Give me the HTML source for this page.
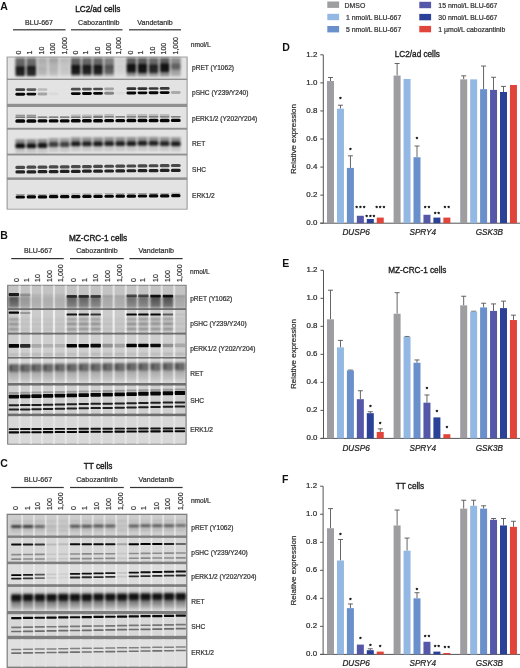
<!DOCTYPE html>
<html><head><meta charset="utf-8"><title>Figure</title>
<style>html,body{margin:0;padding:0;background:#fff;width:520px;height:668px;overflow:hidden}svg{display:block}</style>
</head><body>
<svg width="520" height="668" viewBox="0 0 520 668" font-family="'Liberation Sans', Arial, sans-serif">
<rect width="520" height="668" fill="#fff"/>
<defs><filter id="b6" x="-5%" y="-20%" width="110%" height="140%"><feGaussianBlur stdDeviation="0.8"/></filter><filter id="b5" x="-5%" y="-5%" width="110%" height="110%"><feGaussianBlur stdDeviation="0.5"/></filter></defs>
<rect x="6.60" y="56.60" width="181.00" height="153.00" fill="#909090"/>
<rect x="7.60" y="57.40" width="179.00" height="21.20" fill="#e3e3e3"/>
<rect x="7.60" y="80.00" width="179.00" height="23.80" fill="#e3e3e3"/>
<rect x="7.60" y="107.00" width="179.00" height="20.80" fill="#e3e3e3"/>
<rect x="7.60" y="129.70" width="179.00" height="23.90" fill="#e3e3e3"/>
<rect x="7.60" y="155.50" width="179.00" height="21.90" fill="#e3e3e3"/>
<rect x="7.60" y="179.90" width="179.00" height="28.90" fill="#e3e3e3"/>
<g filter="url(#b6)">
<linearGradient id="prA_0" x1="0" y1="0" x2="0" y2="1"><stop offset="0" stop-color="#000" stop-opacity="0.52"/><stop offset="0.5" stop-color="#000" stop-opacity="0.6"/><stop offset="1" stop-color="#000" stop-opacity="0.300"/></linearGradient>
<rect x="15.36" y="57.8" width="9.80" height="18.6" fill="url(#prA_0)"/>
<rect x="15.66" y="66.50" width="9.20" height="9.50" rx="1.2" fill="#000" fill-opacity="0.750"/>
<linearGradient id="prA_1" x1="0" y1="0" x2="0" y2="1"><stop offset="0" stop-color="#000" stop-opacity="0.5"/><stop offset="0.5" stop-color="#000" stop-opacity="0.58"/><stop offset="1" stop-color="#000" stop-opacity="0.290"/></linearGradient>
<rect x="26.47" y="57.8" width="9.80" height="18.6" fill="url(#prA_1)"/>
<rect x="26.77" y="66.00" width="9.20" height="10.00" rx="1.2" fill="#000" fill-opacity="0.700"/>
<linearGradient id="prA_2" x1="0" y1="0" x2="0" y2="1"><stop offset="0" stop-color="#000" stop-opacity="0.26"/><stop offset="0.5" stop-color="#000" stop-opacity="0.18"/><stop offset="1" stop-color="#000" stop-opacity="0.090"/></linearGradient>
<rect x="37.58" y="57.8" width="9.80" height="18.6" fill="url(#prA_2)"/>
<rect x="37.88" y="67.00" width="9.20" height="8.00" rx="1.2" fill="#000" fill-opacity="0.080"/>
<linearGradient id="prA_3" x1="0" y1="0" x2="0" y2="1"><stop offset="0" stop-color="#000" stop-opacity="0.32"/><stop offset="0.5" stop-color="#000" stop-opacity="0.18"/><stop offset="1" stop-color="#000" stop-opacity="0.090"/></linearGradient>
<rect x="48.69" y="57.8" width="9.80" height="18.6" fill="url(#prA_3)"/>
<rect x="48.99" y="67.00" width="9.20" height="8.00" rx="1.2" fill="#000" fill-opacity="0.060"/>
<linearGradient id="prA_4" x1="0" y1="0" x2="0" y2="1"><stop offset="0" stop-color="#000" stop-opacity="0.2"/><stop offset="0.5" stop-color="#000" stop-opacity="0.12"/><stop offset="1" stop-color="#000" stop-opacity="0.060"/></linearGradient>
<rect x="59.80" y="57.8" width="9.80" height="18.6" fill="url(#prA_4)"/>
<rect x="60.10" y="67.00" width="9.20" height="8.00" rx="1.2" fill="#000" fill-opacity="0.040"/>
<linearGradient id="prA_5" x1="0" y1="0" x2="0" y2="1"><stop offset="0" stop-color="#000" stop-opacity="0.55"/><stop offset="0.5" stop-color="#000" stop-opacity="0.62"/><stop offset="1" stop-color="#000" stop-opacity="0.310"/></linearGradient>
<rect x="70.91" y="57.8" width="9.80" height="18.6" fill="url(#prA_5)"/>
<rect x="71.21" y="65.00" width="9.20" height="9.50" rx="1.2" fill="#000" fill-opacity="0.780"/>
<linearGradient id="prA_6" x1="0" y1="0" x2="0" y2="1"><stop offset="0" stop-color="#000" stop-opacity="0.52"/><stop offset="0.5" stop-color="#000" stop-opacity="0.6"/><stop offset="1" stop-color="#000" stop-opacity="0.300"/></linearGradient>
<rect x="82.02" y="57.8" width="9.80" height="18.6" fill="url(#prA_6)"/>
<rect x="82.32" y="65.00" width="9.20" height="9.50" rx="1.2" fill="#000" fill-opacity="0.720"/>
<linearGradient id="prA_7" x1="0" y1="0" x2="0" y2="1"><stop offset="0" stop-color="#000" stop-opacity="0.52"/><stop offset="0.5" stop-color="#000" stop-opacity="0.6"/><stop offset="1" stop-color="#000" stop-opacity="0.300"/></linearGradient>
<rect x="93.13" y="57.8" width="9.80" height="18.6" fill="url(#prA_7)"/>
<rect x="93.43" y="65.00" width="9.20" height="9.50" rx="1.2" fill="#000" fill-opacity="0.740"/>
<linearGradient id="prA_8" x1="0" y1="0" x2="0" y2="1"><stop offset="0" stop-color="#000" stop-opacity="0.44"/><stop offset="0.5" stop-color="#000" stop-opacity="0.46"/><stop offset="1" stop-color="#000" stop-opacity="0.230"/></linearGradient>
<rect x="104.24" y="57.8" width="9.80" height="18.6" fill="url(#prA_8)"/>
<rect x="104.54" y="65.00" width="9.20" height="9.00" rx="1.2" fill="#000" fill-opacity="0.350"/>
<linearGradient id="prA_9" x1="0" y1="0" x2="0" y2="1"><stop offset="0" stop-color="#000" stop-opacity="0.1"/><stop offset="0.5" stop-color="#000" stop-opacity="0.06"/><stop offset="1" stop-color="#000" stop-opacity="0.030"/></linearGradient>
<rect x="115.35" y="57.8" width="9.80" height="18.6" fill="url(#prA_9)"/>
<rect x="115.65" y="65.00" width="9.20" height="9.00" rx="1.2" fill="#000" fill-opacity="0.030"/>
<linearGradient id="prA_10" x1="0" y1="0" x2="0" y2="1"><stop offset="0" stop-color="#000" stop-opacity="0.58"/><stop offset="0.5" stop-color="#000" stop-opacity="0.64"/><stop offset="1" stop-color="#000" stop-opacity="0.320"/></linearGradient>
<rect x="126.46" y="57.8" width="9.80" height="18.6" fill="url(#prA_10)"/>
<rect x="126.76" y="64.00" width="9.20" height="8.50" rx="1.2" fill="#000" fill-opacity="0.800"/>
<linearGradient id="prA_11" x1="0" y1="0" x2="0" y2="1"><stop offset="0" stop-color="#000" stop-opacity="0.58"/><stop offset="0.5" stop-color="#000" stop-opacity="0.64"/><stop offset="1" stop-color="#000" stop-opacity="0.320"/></linearGradient>
<rect x="137.57" y="57.8" width="9.80" height="18.6" fill="url(#prA_11)"/>
<rect x="137.87" y="64.00" width="9.20" height="9.00" rx="1.2" fill="#000" fill-opacity="0.800"/>
<linearGradient id="prA_12" x1="0" y1="0" x2="0" y2="1"><stop offset="0" stop-color="#000" stop-opacity="0.52"/><stop offset="0.5" stop-color="#000" stop-opacity="0.58"/><stop offset="1" stop-color="#000" stop-opacity="0.290"/></linearGradient>
<rect x="148.68" y="57.8" width="9.80" height="18.6" fill="url(#prA_12)"/>
<rect x="148.98" y="64.50" width="9.20" height="8.50" rx="1.2" fill="#000" fill-opacity="0.660"/>
<linearGradient id="prA_13" x1="0" y1="0" x2="0" y2="1"><stop offset="0" stop-color="#000" stop-opacity="0.58"/><stop offset="0.5" stop-color="#000" stop-opacity="0.64"/><stop offset="1" stop-color="#000" stop-opacity="0.320"/></linearGradient>
<rect x="159.79" y="57.8" width="9.80" height="18.6" fill="url(#prA_13)"/>
<rect x="160.09" y="63.50" width="9.20" height="8.50" rx="1.2" fill="#000" fill-opacity="0.800"/>
<linearGradient id="prA_14" x1="0" y1="0" x2="0" y2="1"><stop offset="0" stop-color="#000" stop-opacity="0.38"/><stop offset="0.5" stop-color="#000" stop-opacity="0.4"/><stop offset="1" stop-color="#000" stop-opacity="0.200"/></linearGradient>
<rect x="170.90" y="57.8" width="9.80" height="18.6" fill="url(#prA_14)"/>
<rect x="171.20" y="63.50" width="9.20" height="6.00" rx="1.2" fill="#000" fill-opacity="0.300"/>
<rect x="15.36" y="139.30" width="9.80" height="4.5" fill="#000" fill-opacity="0.399"/>
<rect x="15.36" y="143.40" width="9.80" height="4.8" rx="1.5" fill="#000" fill-opacity="0.950"/>
<rect x="15.36" y="148.20" width="9.80" height="5" fill="#000" fill-opacity="0.13"/>
<rect x="26.47" y="139.30" width="9.80" height="4.5" fill="#000" fill-opacity="0.391"/>
<rect x="26.47" y="143.40" width="9.80" height="4.8" rx="1.5" fill="#000" fill-opacity="0.930"/>
<rect x="26.47" y="148.20" width="9.80" height="5" fill="#000" fill-opacity="0.13"/>
<rect x="37.58" y="139.00" width="9.80" height="4.5" fill="#000" fill-opacity="0.378"/>
<rect x="37.58" y="143.10" width="9.80" height="4.8" rx="1.5" fill="#000" fill-opacity="0.900"/>
<rect x="37.58" y="147.90" width="9.80" height="5" fill="#000" fill-opacity="0.13"/>
<rect x="48.69" y="138.00" width="9.80" height="4.5" fill="#000" fill-opacity="0.302"/>
<rect x="48.69" y="142.10" width="9.80" height="4.8" rx="1.5" fill="#000" fill-opacity="0.720"/>
<rect x="48.69" y="146.90" width="9.80" height="5" fill="#000" fill-opacity="0.13"/>
<rect x="59.80" y="138.00" width="9.80" height="4.5" fill="#000" fill-opacity="0.294"/>
<rect x="59.80" y="142.10" width="9.80" height="4.8" rx="1.5" fill="#000" fill-opacity="0.700"/>
<rect x="59.80" y="146.90" width="9.80" height="5" fill="#000" fill-opacity="0.13"/>
<rect x="70.91" y="137.30" width="9.80" height="4.5" fill="#000" fill-opacity="0.370"/>
<rect x="70.91" y="141.40" width="9.80" height="4.8" rx="1.5" fill="#000" fill-opacity="0.880"/>
<rect x="70.91" y="146.20" width="9.80" height="5" fill="#000" fill-opacity="0.13"/>
<rect x="82.02" y="137.30" width="9.80" height="4.5" fill="#000" fill-opacity="0.361"/>
<rect x="82.02" y="141.40" width="9.80" height="4.8" rx="1.5" fill="#000" fill-opacity="0.860"/>
<rect x="82.02" y="146.20" width="9.80" height="5" fill="#000" fill-opacity="0.13"/>
<rect x="93.13" y="137.30" width="9.80" height="4.5" fill="#000" fill-opacity="0.370"/>
<rect x="93.13" y="141.40" width="9.80" height="4.8" rx="1.5" fill="#000" fill-opacity="0.880"/>
<rect x="93.13" y="146.20" width="9.80" height="5" fill="#000" fill-opacity="0.13"/>
<rect x="104.24" y="137.10" width="9.80" height="4.5" fill="#000" fill-opacity="0.361"/>
<rect x="104.24" y="141.20" width="9.80" height="4.8" rx="1.5" fill="#000" fill-opacity="0.860"/>
<rect x="104.24" y="146.00" width="9.80" height="5" fill="#000" fill-opacity="0.13"/>
<rect x="115.35" y="137.10" width="9.80" height="4.5" fill="#000" fill-opacity="0.361"/>
<rect x="115.35" y="141.20" width="9.80" height="4.8" rx="1.5" fill="#000" fill-opacity="0.860"/>
<rect x="115.35" y="146.00" width="9.80" height="5" fill="#000" fill-opacity="0.13"/>
<rect x="126.46" y="137.10" width="9.80" height="4.5" fill="#000" fill-opacity="0.370"/>
<rect x="126.46" y="141.20" width="9.80" height="4.8" rx="1.5" fill="#000" fill-opacity="0.880"/>
<rect x="126.46" y="146.00" width="9.80" height="5" fill="#000" fill-opacity="0.13"/>
<rect x="137.57" y="136.90" width="9.80" height="4.5" fill="#000" fill-opacity="0.361"/>
<rect x="137.57" y="141.00" width="9.80" height="4.8" rx="1.5" fill="#000" fill-opacity="0.860"/>
<rect x="137.57" y="145.80" width="9.80" height="5" fill="#000" fill-opacity="0.13"/>
<rect x="148.68" y="136.90" width="9.80" height="4.5" fill="#000" fill-opacity="0.361"/>
<rect x="148.68" y="141.00" width="9.80" height="4.8" rx="1.5" fill="#000" fill-opacity="0.860"/>
<rect x="148.68" y="145.80" width="9.80" height="5" fill="#000" fill-opacity="0.13"/>
<rect x="159.79" y="137.10" width="9.80" height="4.5" fill="#000" fill-opacity="0.353"/>
<rect x="159.79" y="141.20" width="9.80" height="4.8" rx="1.5" fill="#000" fill-opacity="0.840"/>
<rect x="159.79" y="146.00" width="9.80" height="5" fill="#000" fill-opacity="0.13"/>
<rect x="170.90" y="137.30" width="9.80" height="4.5" fill="#000" fill-opacity="0.370"/>
<rect x="170.90" y="141.40" width="9.80" height="4.8" rx="1.5" fill="#000" fill-opacity="0.880"/>
<rect x="170.90" y="146.20" width="9.80" height="5" fill="#000" fill-opacity="0.13"/>
</g>
<g filter="url(#b5)">
<rect x="15.36" y="88.35" width="9.80" height="2.70" rx="1.35" fill="#000" fill-opacity="0.720"/>
<rect x="26.47" y="88.25" width="9.80" height="2.70" rx="1.35" fill="#000" fill-opacity="0.600"/>
<rect x="37.58" y="88.15" width="9.80" height="2.70" rx="1.35" fill="#000" fill-opacity="0.180"/>
<rect x="70.91" y="87.85" width="9.80" height="2.70" rx="1.35" fill="#000" fill-opacity="0.650"/>
<rect x="82.02" y="87.75" width="9.80" height="2.70" rx="1.35" fill="#000" fill-opacity="0.650"/>
<rect x="93.13" y="87.65" width="9.80" height="2.70" rx="1.35" fill="#000" fill-opacity="0.680"/>
<rect x="104.24" y="87.55" width="9.80" height="2.70" rx="1.35" fill="#000" fill-opacity="0.280"/>
<rect x="126.46" y="87.35" width="9.80" height="2.70" rx="1.35" fill="#000" fill-opacity="0.780"/>
<rect x="137.57" y="87.25" width="9.80" height="2.70" rx="1.35" fill="#000" fill-opacity="0.780"/>
<rect x="148.68" y="87.15" width="9.80" height="2.70" rx="1.35" fill="#000" fill-opacity="0.750"/>
<rect x="159.79" y="87.05" width="9.80" height="2.70" rx="1.35" fill="#000" fill-opacity="0.750"/>
<rect x="15.36" y="92.75" width="9.80" height="2.90" rx="1.45" fill="#000" fill-opacity="0.970"/>
<rect x="26.47" y="92.63" width="9.80" height="2.90" rx="1.45" fill="#000" fill-opacity="0.950"/>
<rect x="37.58" y="92.51" width="9.80" height="2.90" rx="1.45" fill="#000" fill-opacity="0.280"/>
<rect x="48.69" y="92.39" width="9.80" height="2.90" rx="1.45" fill="#000" fill-opacity="0.040"/>
<rect x="70.91" y="92.14" width="9.80" height="2.90" rx="1.45" fill="#000" fill-opacity="0.970"/>
<rect x="82.02" y="92.02" width="9.80" height="2.90" rx="1.45" fill="#000" fill-opacity="0.970"/>
<rect x="93.13" y="91.90" width="9.80" height="2.90" rx="1.45" fill="#000" fill-opacity="0.970"/>
<rect x="104.24" y="91.78" width="9.80" height="2.90" rx="1.45" fill="#000" fill-opacity="0.420"/>
<rect x="115.35" y="91.66" width="9.80" height="2.90" rx="1.45" fill="#000" fill-opacity="0.030"/>
<rect x="126.46" y="91.54" width="9.80" height="2.90" rx="1.45" fill="#000" fill-opacity="0.970"/>
<rect x="137.57" y="91.41" width="9.80" height="2.90" rx="1.45" fill="#000" fill-opacity="0.970"/>
<rect x="148.68" y="91.29" width="9.80" height="2.90" rx="1.45" fill="#000" fill-opacity="0.970"/>
<rect x="159.79" y="91.17" width="9.80" height="2.90" rx="1.45" fill="#000" fill-opacity="0.970"/>
<rect x="170.90" y="91.05" width="9.80" height="2.90" rx="1.45" fill="#000" fill-opacity="0.250"/>
<rect x="15.36" y="119.30" width="9.80" height="3.40" rx="1.50" fill="#000" fill-opacity="0.970"/>
<rect x="26.47" y="119.26" width="9.80" height="3.40" rx="1.50" fill="#000" fill-opacity="0.970"/>
<rect x="37.58" y="119.21" width="9.80" height="3.40" rx="1.50" fill="#000" fill-opacity="0.970"/>
<rect x="48.69" y="119.17" width="9.80" height="3.40" rx="1.50" fill="#000" fill-opacity="0.970"/>
<rect x="59.80" y="119.13" width="9.80" height="3.40" rx="1.50" fill="#000" fill-opacity="0.970"/>
<rect x="70.91" y="119.09" width="9.80" height="3.40" rx="1.50" fill="#000" fill-opacity="0.970"/>
<rect x="82.02" y="119.04" width="9.80" height="3.40" rx="1.50" fill="#000" fill-opacity="0.970"/>
<rect x="93.13" y="119.00" width="9.80" height="3.40" rx="1.50" fill="#000" fill-opacity="0.970"/>
<rect x="104.24" y="118.96" width="9.80" height="3.40" rx="1.50" fill="#000" fill-opacity="0.970"/>
<rect x="115.35" y="118.91" width="9.80" height="3.40" rx="1.50" fill="#000" fill-opacity="0.970"/>
<rect x="126.46" y="118.87" width="9.80" height="3.40" rx="1.50" fill="#000" fill-opacity="0.970"/>
<rect x="137.57" y="118.83" width="9.80" height="3.40" rx="1.50" fill="#000" fill-opacity="0.970"/>
<rect x="148.68" y="118.79" width="9.80" height="3.40" rx="1.50" fill="#000" fill-opacity="0.970"/>
<rect x="159.79" y="118.74" width="9.80" height="3.40" rx="1.50" fill="#000" fill-opacity="0.970"/>
<rect x="170.90" y="118.70" width="9.80" height="3.40" rx="1.50" fill="#000" fill-opacity="0.970"/>
<rect x="15.36" y="116.55" width="9.80" height="1.30" rx="0.65" fill="#000" fill-opacity="0.620"/>
<rect x="26.47" y="116.52" width="9.80" height="1.30" rx="0.65" fill="#000" fill-opacity="0.620"/>
<rect x="37.58" y="116.49" width="9.80" height="1.30" rx="0.65" fill="#000" fill-opacity="0.580"/>
<rect x="48.69" y="116.46" width="9.80" height="1.30" rx="0.65" fill="#000" fill-opacity="0.580"/>
<rect x="59.80" y="116.44" width="9.80" height="1.30" rx="0.65" fill="#000" fill-opacity="0.580"/>
<rect x="70.91" y="116.41" width="9.80" height="1.30" rx="0.65" fill="#000" fill-opacity="0.620"/>
<rect x="82.02" y="116.38" width="9.80" height="1.30" rx="0.65" fill="#000" fill-opacity="0.620"/>
<rect x="93.13" y="116.35" width="9.80" height="1.30" rx="0.65" fill="#000" fill-opacity="0.620"/>
<rect x="104.24" y="116.32" width="9.80" height="1.30" rx="0.65" fill="#000" fill-opacity="0.580"/>
<rect x="115.35" y="116.29" width="9.80" height="1.30" rx="0.65" fill="#000" fill-opacity="0.580"/>
<rect x="126.46" y="116.26" width="9.80" height="1.30" rx="0.65" fill="#000" fill-opacity="0.580"/>
<rect x="137.57" y="116.24" width="9.80" height="1.30" rx="0.65" fill="#000" fill-opacity="0.620"/>
<rect x="148.68" y="116.21" width="9.80" height="1.30" rx="0.65" fill="#000" fill-opacity="0.620"/>
<rect x="159.79" y="116.18" width="9.80" height="1.30" rx="0.65" fill="#000" fill-opacity="0.580"/>
<rect x="170.90" y="116.15" width="9.80" height="1.30" rx="0.65" fill="#000" fill-opacity="0.580"/>
<rect x="15.36" y="114.85" width="9.80" height="0.90" rx="0.45" fill="#000" fill-opacity="0.450"/>
<rect x="26.47" y="114.82" width="9.80" height="0.90" rx="0.45" fill="#000" fill-opacity="0.450"/>
<rect x="70.91" y="114.71" width="9.80" height="0.90" rx="0.45" fill="#000" fill-opacity="0.350"/>
<rect x="82.02" y="114.68" width="9.80" height="0.90" rx="0.45" fill="#000" fill-opacity="0.350"/>
<rect x="93.13" y="114.65" width="9.80" height="0.90" rx="0.45" fill="#000" fill-opacity="0.400"/>
<rect x="104.24" y="114.62" width="9.80" height="0.90" rx="0.45" fill="#000" fill-opacity="0.350"/>
<rect x="126.46" y="114.56" width="9.80" height="0.90" rx="0.45" fill="#000" fill-opacity="0.300"/>
<rect x="137.57" y="114.54" width="9.80" height="0.90" rx="0.45" fill="#000" fill-opacity="0.350"/>
<rect x="148.68" y="114.51" width="9.80" height="0.90" rx="0.45" fill="#000" fill-opacity="0.350"/>
<rect x="159.79" y="114.48" width="9.80" height="0.90" rx="0.45" fill="#000" fill-opacity="0.350"/>
<rect x="15.36" y="165.70" width="9.80" height="3.20" rx="1.50" fill="#000" fill-opacity="0.680"/>
<rect x="26.47" y="165.57" width="9.80" height="3.20" rx="1.50" fill="#000" fill-opacity="0.680"/>
<rect x="37.58" y="165.44" width="9.80" height="3.20" rx="1.50" fill="#000" fill-opacity="0.680"/>
<rect x="48.69" y="165.31" width="9.80" height="3.20" rx="1.50" fill="#000" fill-opacity="0.680"/>
<rect x="59.80" y="165.19" width="9.80" height="3.20" rx="1.50" fill="#000" fill-opacity="0.680"/>
<rect x="70.91" y="165.06" width="9.80" height="3.20" rx="1.50" fill="#000" fill-opacity="0.680"/>
<rect x="82.02" y="164.93" width="9.80" height="3.20" rx="1.50" fill="#000" fill-opacity="0.680"/>
<rect x="93.13" y="164.80" width="9.80" height="3.20" rx="1.50" fill="#000" fill-opacity="0.680"/>
<rect x="104.24" y="164.67" width="9.80" height="3.20" rx="1.50" fill="#000" fill-opacity="0.680"/>
<rect x="115.35" y="164.54" width="9.80" height="3.20" rx="1.50" fill="#000" fill-opacity="0.680"/>
<rect x="126.46" y="164.41" width="9.80" height="3.20" rx="1.50" fill="#000" fill-opacity="0.680"/>
<rect x="137.57" y="164.29" width="9.80" height="3.20" rx="1.50" fill="#000" fill-opacity="0.680"/>
<rect x="148.68" y="164.16" width="9.80" height="3.20" rx="1.50" fill="#000" fill-opacity="0.680"/>
<rect x="159.79" y="164.03" width="9.80" height="3.20" rx="1.50" fill="#000" fill-opacity="0.680"/>
<rect x="170.90" y="163.90" width="9.80" height="3.20" rx="1.50" fill="#000" fill-opacity="0.680"/>
<rect x="15.36" y="170.30" width="9.80" height="3.20" rx="1.50" fill="#000" fill-opacity="0.850"/>
<rect x="26.47" y="170.19" width="9.80" height="3.20" rx="1.50" fill="#000" fill-opacity="0.850"/>
<rect x="37.58" y="170.07" width="9.80" height="3.20" rx="1.50" fill="#000" fill-opacity="0.850"/>
<rect x="48.69" y="169.96" width="9.80" height="3.20" rx="1.50" fill="#000" fill-opacity="0.850"/>
<rect x="59.80" y="169.84" width="9.80" height="3.20" rx="1.50" fill="#000" fill-opacity="0.850"/>
<rect x="70.91" y="169.73" width="9.80" height="3.20" rx="1.50" fill="#000" fill-opacity="0.850"/>
<rect x="82.02" y="169.61" width="9.80" height="3.20" rx="1.50" fill="#000" fill-opacity="0.850"/>
<rect x="93.13" y="169.50" width="9.80" height="3.20" rx="1.50" fill="#000" fill-opacity="0.850"/>
<rect x="104.24" y="169.39" width="9.80" height="3.20" rx="1.50" fill="#000" fill-opacity="0.850"/>
<rect x="115.35" y="169.27" width="9.80" height="3.20" rx="1.50" fill="#000" fill-opacity="0.850"/>
<rect x="126.46" y="169.16" width="9.80" height="3.20" rx="1.50" fill="#000" fill-opacity="0.850"/>
<rect x="137.57" y="169.04" width="9.80" height="3.20" rx="1.50" fill="#000" fill-opacity="0.850"/>
<rect x="148.68" y="168.93" width="9.80" height="3.20" rx="1.50" fill="#000" fill-opacity="0.850"/>
<rect x="159.79" y="168.81" width="9.80" height="3.20" rx="1.50" fill="#000" fill-opacity="0.850"/>
<rect x="170.90" y="168.70" width="9.80" height="3.20" rx="1.50" fill="#000" fill-opacity="0.850"/>
<rect x="15.56" y="195.40" width="9.41" height="3.20" rx="1.50" fill="#000" fill-opacity="0.970"/>
<rect x="26.67" y="195.31" width="9.41" height="3.20" rx="1.50" fill="#000" fill-opacity="0.970"/>
<rect x="37.78" y="195.21" width="9.41" height="3.20" rx="1.50" fill="#000" fill-opacity="0.970"/>
<rect x="48.89" y="195.12" width="9.41" height="3.20" rx="1.50" fill="#000" fill-opacity="0.970"/>
<rect x="60.00" y="195.03" width="9.41" height="3.20" rx="1.50" fill="#000" fill-opacity="0.970"/>
<rect x="71.11" y="194.94" width="9.41" height="3.20" rx="1.50" fill="#000" fill-opacity="0.970"/>
<rect x="82.22" y="194.84" width="9.41" height="3.20" rx="1.50" fill="#000" fill-opacity="0.970"/>
<rect x="93.33" y="194.75" width="9.41" height="3.20" rx="1.50" fill="#000" fill-opacity="0.970"/>
<rect x="104.44" y="194.66" width="9.41" height="3.20" rx="1.50" fill="#000" fill-opacity="0.970"/>
<rect x="115.55" y="194.56" width="9.41" height="3.20" rx="1.50" fill="#000" fill-opacity="0.970"/>
<rect x="126.66" y="194.47" width="9.41" height="3.20" rx="1.50" fill="#000" fill-opacity="0.970"/>
<rect x="137.77" y="194.38" width="9.41" height="3.20" rx="1.50" fill="#000" fill-opacity="0.970"/>
<rect x="148.88" y="194.29" width="9.41" height="3.20" rx="1.50" fill="#000" fill-opacity="0.970"/>
<rect x="159.99" y="194.19" width="9.41" height="3.20" rx="1.50" fill="#000" fill-opacity="0.970"/>
<rect x="171.10" y="194.10" width="9.41" height="3.20" rx="1.50" fill="#000" fill-opacity="0.970"/>
<rect x="15.56" y="194.05" width="9.41" height="0.90" rx="0.45" fill="#000" fill-opacity="0.300"/>
<rect x="26.67" y="193.96" width="9.41" height="0.90" rx="0.45" fill="#000" fill-opacity="0.300"/>
<rect x="37.78" y="193.88" width="9.41" height="0.90" rx="0.45" fill="#000" fill-opacity="0.300"/>
<rect x="48.89" y="193.79" width="9.41" height="0.90" rx="0.45" fill="#000" fill-opacity="0.300"/>
<rect x="60.00" y="193.71" width="9.41" height="0.90" rx="0.45" fill="#000" fill-opacity="0.300"/>
<rect x="71.11" y="193.62" width="9.41" height="0.90" rx="0.45" fill="#000" fill-opacity="0.300"/>
<rect x="82.22" y="193.54" width="9.41" height="0.90" rx="0.45" fill="#000" fill-opacity="0.300"/>
<rect x="93.33" y="193.45" width="9.41" height="0.90" rx="0.45" fill="#000" fill-opacity="0.300"/>
<rect x="104.44" y="193.36" width="9.41" height="0.90" rx="0.45" fill="#000" fill-opacity="0.300"/>
<rect x="115.55" y="193.28" width="9.41" height="0.90" rx="0.45" fill="#000" fill-opacity="0.300"/>
<rect x="126.66" y="193.19" width="9.41" height="0.90" rx="0.45" fill="#000" fill-opacity="0.300"/>
<rect x="137.77" y="193.11" width="9.41" height="0.90" rx="0.45" fill="#000" fill-opacity="0.300"/>
<rect x="148.88" y="193.02" width="9.41" height="0.90" rx="0.45" fill="#000" fill-opacity="0.300"/>
<rect x="159.99" y="192.94" width="9.41" height="0.90" rx="0.45" fill="#000" fill-opacity="0.300"/>
<rect x="171.10" y="192.85" width="9.41" height="0.90" rx="0.45" fill="#000" fill-opacity="0.300"/>
</g>
<rect x="7.20" y="284.8" width="179.40" height="159.80" fill="#6e6e6e"/>
<rect x="8.20" y="285.60" width="177.40" height="22.60" fill="#c3c3c3"/>
<rect x="8.20" y="310.00" width="177.40" height="22.60" fill="#cbcbcb"/>
<rect x="8.20" y="334.60" width="177.40" height="22.40" fill="#cecece"/>
<rect x="8.20" y="358.60" width="177.40" height="24.40" fill="#d5d5d5"/>
<rect x="8.20" y="385.60" width="177.40" height="28.00" fill="#cfcfcf"/>
<rect x="8.20" y="416.20" width="177.40" height="27.60" fill="#d8d8d8"/>
<linearGradient id="retBsm" x1="0" y1="0" x2="0" y2="1"><stop offset="0" stop-color="#000" stop-opacity="0.22"/><stop offset="1" stop-color="#000" stop-opacity="0.05"/></linearGradient>
<g filter="url(#b5)">
<rect x="18.50" y="285.60" width="2.20" height="22.60" fill="#e2e2e2"/>
<rect x="29.80" y="285.60" width="2.20" height="22.60" fill="#e2e2e2"/>
<rect x="41.00" y="285.60" width="2.20" height="22.60" fill="#e2e2e2"/>
<rect x="52.90" y="285.60" width="2.20" height="22.60" fill="#e2e2e2"/>
<rect x="64.70" y="285.60" width="2.20" height="22.60" fill="#e2e2e2"/>
<rect x="76.70" y="285.60" width="2.20" height="22.60" fill="#e2e2e2"/>
<rect x="88.60" y="285.60" width="2.20" height="22.60" fill="#e2e2e2"/>
<rect x="100.60" y="285.60" width="2.20" height="22.60" fill="#e2e2e2"/>
<rect x="112.50" y="285.60" width="2.20" height="22.60" fill="#e2e2e2"/>
<rect x="124.70" y="285.60" width="2.20" height="22.60" fill="#e2e2e2"/>
<rect x="136.30" y="285.60" width="2.20" height="22.60" fill="#e2e2e2"/>
<rect x="148.30" y="285.60" width="2.20" height="22.60" fill="#e2e2e2"/>
<rect x="160.60" y="285.60" width="2.20" height="22.60" fill="#e2e2e2"/>
<rect x="173.10" y="285.60" width="2.20" height="22.60" fill="#e2e2e2"/>
</g>
<g filter="url(#b5)">
<rect x="18.50" y="310.00" width="2.20" height="22.60" fill="#f0f0f0"/>
<rect x="29.80" y="310.00" width="2.20" height="22.60" fill="#f0f0f0"/>
<rect x="41.00" y="310.00" width="2.20" height="22.60" fill="#f0f0f0"/>
<rect x="52.90" y="310.00" width="2.20" height="22.60" fill="#f0f0f0"/>
<rect x="64.70" y="310.00" width="2.20" height="22.60" fill="#f0f0f0"/>
<rect x="76.70" y="310.00" width="2.20" height="22.60" fill="#f0f0f0"/>
<rect x="88.60" y="310.00" width="2.20" height="22.60" fill="#f0f0f0"/>
<rect x="100.60" y="310.00" width="2.20" height="22.60" fill="#f0f0f0"/>
<rect x="112.50" y="310.00" width="2.20" height="22.60" fill="#f0f0f0"/>
<rect x="124.70" y="310.00" width="2.20" height="22.60" fill="#f0f0f0"/>
<rect x="136.30" y="310.00" width="2.20" height="22.60" fill="#f0f0f0"/>
<rect x="148.30" y="310.00" width="2.20" height="22.60" fill="#f0f0f0"/>
<rect x="160.60" y="310.00" width="2.20" height="22.60" fill="#f0f0f0"/>
<rect x="173.10" y="310.00" width="2.20" height="22.60" fill="#f0f0f0"/>
</g>
<g filter="url(#b5)">
<rect x="18.50" y="334.60" width="2.20" height="22.40" fill="#ececec"/>
<rect x="29.80" y="334.60" width="2.20" height="22.40" fill="#ececec"/>
<rect x="41.00" y="334.60" width="2.20" height="22.40" fill="#ececec"/>
<rect x="52.90" y="334.60" width="2.20" height="22.40" fill="#ececec"/>
<rect x="64.70" y="334.60" width="2.20" height="22.40" fill="#ececec"/>
<rect x="76.70" y="334.60" width="2.20" height="22.40" fill="#ececec"/>
<rect x="88.60" y="334.60" width="2.20" height="22.40" fill="#ececec"/>
<rect x="100.60" y="334.60" width="2.20" height="22.40" fill="#ececec"/>
<rect x="112.50" y="334.60" width="2.20" height="22.40" fill="#ececec"/>
<rect x="124.70" y="334.60" width="2.20" height="22.40" fill="#ececec"/>
<rect x="136.30" y="334.60" width="2.20" height="22.40" fill="#ececec"/>
<rect x="148.30" y="334.60" width="2.20" height="22.40" fill="#ececec"/>
<rect x="160.60" y="334.60" width="2.20" height="22.40" fill="#ececec"/>
<rect x="173.10" y="334.60" width="2.20" height="22.40" fill="#ececec"/>
</g>
<g filter="url(#b5)">
<rect x="18.50" y="358.60" width="2.20" height="24.40" fill="#eeeeee"/>
<rect x="29.80" y="358.60" width="2.20" height="24.40" fill="#eeeeee"/>
<rect x="41.00" y="358.60" width="2.20" height="24.40" fill="#eeeeee"/>
<rect x="52.90" y="358.60" width="2.20" height="24.40" fill="#eeeeee"/>
<rect x="64.70" y="358.60" width="2.20" height="24.40" fill="#eeeeee"/>
<rect x="76.70" y="358.60" width="2.20" height="24.40" fill="#eeeeee"/>
<rect x="88.60" y="358.60" width="2.20" height="24.40" fill="#eeeeee"/>
<rect x="100.60" y="358.60" width="2.20" height="24.40" fill="#eeeeee"/>
<rect x="112.50" y="358.60" width="2.20" height="24.40" fill="#eeeeee"/>
<rect x="124.70" y="358.60" width="2.20" height="24.40" fill="#eeeeee"/>
<rect x="136.30" y="358.60" width="2.20" height="24.40" fill="#eeeeee"/>
<rect x="148.30" y="358.60" width="2.20" height="24.40" fill="#eeeeee"/>
<rect x="160.60" y="358.60" width="2.20" height="24.40" fill="#eeeeee"/>
<rect x="173.10" y="358.60" width="2.20" height="24.40" fill="#eeeeee"/>
</g>
<g filter="url(#b5)">
<rect x="18.50" y="385.60" width="2.20" height="28.00" fill="#f2f2f2"/>
<rect x="29.80" y="385.60" width="2.20" height="28.00" fill="#f2f2f2"/>
<rect x="41.00" y="385.60" width="2.20" height="28.00" fill="#f2f2f2"/>
<rect x="52.90" y="385.60" width="2.20" height="28.00" fill="#f2f2f2"/>
<rect x="64.70" y="385.60" width="2.20" height="28.00" fill="#f2f2f2"/>
<rect x="76.70" y="385.60" width="2.20" height="28.00" fill="#f2f2f2"/>
<rect x="88.60" y="385.60" width="2.20" height="28.00" fill="#f2f2f2"/>
<rect x="100.60" y="385.60" width="2.20" height="28.00" fill="#f2f2f2"/>
<rect x="112.50" y="385.60" width="2.20" height="28.00" fill="#f2f2f2"/>
<rect x="124.70" y="385.60" width="2.20" height="28.00" fill="#f2f2f2"/>
<rect x="136.30" y="385.60" width="2.20" height="28.00" fill="#f2f2f2"/>
<rect x="148.30" y="385.60" width="2.20" height="28.00" fill="#f2f2f2"/>
<rect x="160.60" y="385.60" width="2.20" height="28.00" fill="#f2f2f2"/>
<rect x="173.10" y="385.60" width="2.20" height="28.00" fill="#f2f2f2"/>
</g>
<g filter="url(#b5)">
<rect x="18.50" y="416.20" width="2.20" height="27.60" fill="#e4e4e4"/>
<rect x="29.80" y="416.20" width="2.20" height="27.60" fill="#e4e4e4"/>
<rect x="41.00" y="416.20" width="2.20" height="27.60" fill="#e4e4e4"/>
<rect x="52.90" y="416.20" width="2.20" height="27.60" fill="#e4e4e4"/>
<rect x="64.70" y="416.20" width="2.20" height="27.60" fill="#e4e4e4"/>
<rect x="76.70" y="416.20" width="2.20" height="27.60" fill="#e4e4e4"/>
<rect x="88.60" y="416.20" width="2.20" height="27.60" fill="#e4e4e4"/>
<rect x="100.60" y="416.20" width="2.20" height="27.60" fill="#e4e4e4"/>
<rect x="112.50" y="416.20" width="2.20" height="27.60" fill="#e4e4e4"/>
<rect x="124.70" y="416.20" width="2.20" height="27.60" fill="#e4e4e4"/>
<rect x="136.30" y="416.20" width="2.20" height="27.60" fill="#e4e4e4"/>
<rect x="148.30" y="416.20" width="2.20" height="27.60" fill="#e4e4e4"/>
<rect x="160.60" y="416.20" width="2.20" height="27.60" fill="#e4e4e4"/>
<rect x="173.10" y="416.20" width="2.20" height="27.60" fill="#e4e4e4"/>
</g>
<g filter="url(#b6)">
<linearGradient id="prB_0" x1="0" y1="0" x2="0" y2="1"><stop offset="0" stop-color="#000" stop-opacity="0.600"/><stop offset="1" stop-color="#000" stop-opacity="0.367"/></linearGradient>
<rect x="8.70" y="296.50" width="10.40" height="11.00" fill="url(#prB_0)"/>
<linearGradient id="prB_1" x1="0" y1="0" x2="0" y2="1"><stop offset="0" stop-color="#000" stop-opacity="0.240"/><stop offset="1" stop-color="#000" stop-opacity="0.158"/></linearGradient>
<rect x="20.05" y="296.50" width="10.40" height="11.00" fill="url(#prB_1)"/>
<linearGradient id="prB_2" x1="0" y1="0" x2="0" y2="1"><stop offset="0" stop-color="#000" stop-opacity="0.120"/><stop offset="1" stop-color="#000" stop-opacity="0.088"/></linearGradient>
<rect x="31.30" y="296.50" width="10.40" height="11.00" fill="url(#prB_2)"/>
<linearGradient id="prB_3" x1="0" y1="0" x2="0" y2="1"><stop offset="0" stop-color="#000" stop-opacity="0.114"/><stop offset="1" stop-color="#000" stop-opacity="0.084"/></linearGradient>
<rect x="42.85" y="296.50" width="10.40" height="11.00" fill="url(#prB_3)"/>
<linearGradient id="prB_4" x1="0" y1="0" x2="0" y2="1"><stop offset="0" stop-color="#000" stop-opacity="0.114"/><stop offset="1" stop-color="#000" stop-opacity="0.084"/></linearGradient>
<rect x="54.70" y="296.50" width="10.40" height="11.00" fill="url(#prB_4)"/>
<linearGradient id="prB_5" x1="0" y1="0" x2="0" y2="1"><stop offset="0" stop-color="#000" stop-opacity="0.522"/><stop offset="1" stop-color="#000" stop-opacity="0.322"/></linearGradient>
<rect x="66.60" y="296.50" width="10.40" height="11.00" fill="url(#prB_5)"/>
<linearGradient id="prB_6" x1="0" y1="0" x2="0" y2="1"><stop offset="0" stop-color="#000" stop-opacity="0.522"/><stop offset="1" stop-color="#000" stop-opacity="0.322"/></linearGradient>
<rect x="78.55" y="296.50" width="10.40" height="11.00" fill="url(#prB_6)"/>
<linearGradient id="prB_7" x1="0" y1="0" x2="0" y2="1"><stop offset="0" stop-color="#000" stop-opacity="0.462"/><stop offset="1" stop-color="#000" stop-opacity="0.287"/></linearGradient>
<rect x="90.50" y="296.50" width="10.40" height="11.00" fill="url(#prB_7)"/>
<linearGradient id="prB_8" x1="0" y1="0" x2="0" y2="1"><stop offset="0" stop-color="#000" stop-opacity="0.150"/><stop offset="1" stop-color="#000" stop-opacity="0.105"/></linearGradient>
<rect x="102.45" y="296.50" width="10.40" height="11.00" fill="url(#prB_8)"/>
<linearGradient id="prB_9" x1="0" y1="0" x2="0" y2="1"><stop offset="0" stop-color="#000" stop-opacity="0.138"/><stop offset="1" stop-color="#000" stop-opacity="0.098"/></linearGradient>
<rect x="114.50" y="296.50" width="10.40" height="11.00" fill="url(#prB_9)"/>
<linearGradient id="prB_10" x1="0" y1="0" x2="0" y2="1"><stop offset="0" stop-color="#000" stop-opacity="0.450"/><stop offset="1" stop-color="#000" stop-opacity="0.280"/></linearGradient>
<rect x="126.40" y="296.50" width="10.40" height="11.00" fill="url(#prB_10)"/>
<linearGradient id="prB_11" x1="0" y1="0" x2="0" y2="1"><stop offset="0" stop-color="#000" stop-opacity="0.450"/><stop offset="1" stop-color="#000" stop-opacity="0.280"/></linearGradient>
<rect x="138.20" y="296.50" width="10.40" height="11.00" fill="url(#prB_11)"/>
<linearGradient id="prB_12" x1="0" y1="0" x2="0" y2="1"><stop offset="0" stop-color="#000" stop-opacity="0.630"/><stop offset="1" stop-color="#000" stop-opacity="0.385"/></linearGradient>
<rect x="150.35" y="296.50" width="10.40" height="11.00" fill="url(#prB_12)"/>
<linearGradient id="prB_13" x1="0" y1="0" x2="0" y2="1"><stop offset="0" stop-color="#000" stop-opacity="0.630"/><stop offset="1" stop-color="#000" stop-opacity="0.385"/></linearGradient>
<rect x="162.75" y="296.50" width="10.40" height="11.00" fill="url(#prB_13)"/>
<linearGradient id="prB_14" x1="0" y1="0" x2="0" y2="1"><stop offset="0" stop-color="#000" stop-opacity="0.162"/><stop offset="1" stop-color="#000" stop-opacity="0.112"/></linearGradient>
<rect x="174.70" y="296.50" width="10.40" height="11.00" fill="url(#prB_14)"/>
<rect x="8.70" y="318.60" width="10.40" height="1.80" rx="0.70" fill="#000" fill-opacity="0.340"/>
<rect x="20.05" y="318.58" width="10.40" height="1.80" rx="0.70" fill="#000" fill-opacity="0.070"/>
<rect x="31.30" y="318.56" width="10.40" height="1.80" rx="0.70" fill="#000" fill-opacity="0.070"/>
<rect x="42.85" y="318.54" width="10.40" height="1.80" rx="0.70" fill="#000" fill-opacity="0.070"/>
<rect x="54.70" y="318.51" width="10.40" height="1.80" rx="0.70" fill="#000" fill-opacity="0.070"/>
<rect x="66.60" y="318.49" width="10.40" height="1.80" rx="0.70" fill="#000" fill-opacity="0.340"/>
<rect x="78.55" y="318.47" width="10.40" height="1.80" rx="0.70" fill="#000" fill-opacity="0.340"/>
<rect x="90.50" y="318.45" width="10.40" height="1.80" rx="0.70" fill="#000" fill-opacity="0.340"/>
<rect x="102.45" y="318.43" width="10.40" height="1.80" rx="0.70" fill="#000" fill-opacity="0.070"/>
<rect x="114.50" y="318.41" width="10.40" height="1.80" rx="0.70" fill="#000" fill-opacity="0.070"/>
<rect x="126.40" y="318.39" width="10.40" height="1.80" rx="0.70" fill="#000" fill-opacity="0.340"/>
<rect x="138.20" y="318.36" width="10.40" height="1.80" rx="0.70" fill="#000" fill-opacity="0.340"/>
<rect x="150.35" y="318.34" width="10.40" height="1.80" rx="0.70" fill="#000" fill-opacity="0.340"/>
<rect x="162.75" y="318.32" width="10.40" height="1.80" rx="0.70" fill="#000" fill-opacity="0.340"/>
<rect x="174.70" y="318.30" width="10.40" height="1.80" rx="0.70" fill="#000" fill-opacity="0.070"/>
<rect x="8.70" y="323.30" width="10.40" height="2.00" rx="0.70" fill="#000" fill-opacity="0.420"/>
<rect x="20.05" y="323.26" width="10.40" height="2.00" rx="0.70" fill="#000" fill-opacity="0.090"/>
<rect x="31.30" y="323.23" width="10.40" height="2.00" rx="0.70" fill="#000" fill-opacity="0.090"/>
<rect x="42.85" y="323.19" width="10.40" height="2.00" rx="0.70" fill="#000" fill-opacity="0.090"/>
<rect x="54.70" y="323.16" width="10.40" height="2.00" rx="0.70" fill="#000" fill-opacity="0.090"/>
<rect x="66.60" y="323.12" width="10.40" height="2.00" rx="0.70" fill="#000" fill-opacity="0.420"/>
<rect x="78.55" y="323.09" width="10.40" height="2.00" rx="0.70" fill="#000" fill-opacity="0.420"/>
<rect x="90.50" y="323.05" width="10.40" height="2.00" rx="0.70" fill="#000" fill-opacity="0.420"/>
<rect x="102.45" y="323.01" width="10.40" height="2.00" rx="0.70" fill="#000" fill-opacity="0.090"/>
<rect x="114.50" y="322.98" width="10.40" height="2.00" rx="0.70" fill="#000" fill-opacity="0.090"/>
<rect x="126.40" y="322.94" width="10.40" height="2.00" rx="0.70" fill="#000" fill-opacity="0.420"/>
<rect x="138.20" y="322.91" width="10.40" height="2.00" rx="0.70" fill="#000" fill-opacity="0.420"/>
<rect x="150.35" y="322.87" width="10.40" height="2.00" rx="0.70" fill="#000" fill-opacity="0.420"/>
<rect x="162.75" y="322.84" width="10.40" height="2.00" rx="0.70" fill="#000" fill-opacity="0.420"/>
<rect x="174.70" y="322.80" width="10.40" height="2.00" rx="0.70" fill="#000" fill-opacity="0.090"/>
<rect x="8.70" y="328.20" width="10.40" height="2.00" rx="0.70" fill="#000" fill-opacity="0.380"/>
<rect x="20.05" y="328.19" width="10.40" height="2.00" rx="0.70" fill="#000" fill-opacity="0.090"/>
<rect x="31.30" y="328.17" width="10.40" height="2.00" rx="0.70" fill="#000" fill-opacity="0.090"/>
<rect x="42.85" y="328.16" width="10.40" height="2.00" rx="0.70" fill="#000" fill-opacity="0.090"/>
<rect x="54.70" y="328.14" width="10.40" height="2.00" rx="0.70" fill="#000" fill-opacity="0.090"/>
<rect x="66.60" y="328.13" width="10.40" height="2.00" rx="0.70" fill="#000" fill-opacity="0.380"/>
<rect x="78.55" y="328.11" width="10.40" height="2.00" rx="0.70" fill="#000" fill-opacity="0.380"/>
<rect x="90.50" y="328.10" width="10.40" height="2.00" rx="0.70" fill="#000" fill-opacity="0.380"/>
<rect x="102.45" y="328.09" width="10.40" height="2.00" rx="0.70" fill="#000" fill-opacity="0.090"/>
<rect x="114.50" y="328.07" width="10.40" height="2.00" rx="0.70" fill="#000" fill-opacity="0.090"/>
<rect x="126.40" y="328.06" width="10.40" height="2.00" rx="0.70" fill="#000" fill-opacity="0.380"/>
<rect x="138.20" y="328.04" width="10.40" height="2.00" rx="0.70" fill="#000" fill-opacity="0.380"/>
<rect x="150.35" y="328.03" width="10.40" height="2.00" rx="0.70" fill="#000" fill-opacity="0.380"/>
<rect x="162.75" y="328.01" width="10.40" height="2.00" rx="0.70" fill="#000" fill-opacity="0.380"/>
<rect x="174.70" y="328.00" width="10.40" height="2.00" rx="0.70" fill="#000" fill-opacity="0.090"/>
<rect x="8.70" y="353.90" width="10.40" height="1.40" rx="0.70" fill="#000" fill-opacity="0.200"/>
<rect x="20.05" y="353.86" width="10.40" height="1.40" rx="0.70" fill="#000" fill-opacity="0.200"/>
<rect x="31.30" y="353.81" width="10.40" height="1.40" rx="0.70" fill="#000" fill-opacity="0.200"/>
<rect x="42.85" y="353.77" width="10.40" height="1.40" rx="0.70" fill="#000" fill-opacity="0.200"/>
<rect x="54.70" y="353.73" width="10.40" height="1.40" rx="0.70" fill="#000" fill-opacity="0.200"/>
<rect x="66.60" y="353.69" width="10.40" height="1.40" rx="0.70" fill="#000" fill-opacity="0.200"/>
<rect x="78.55" y="353.64" width="10.40" height="1.40" rx="0.70" fill="#000" fill-opacity="0.200"/>
<rect x="90.50" y="353.60" width="10.40" height="1.40" rx="0.70" fill="#000" fill-opacity="0.200"/>
<rect x="102.45" y="353.56" width="10.40" height="1.40" rx="0.70" fill="#000" fill-opacity="0.200"/>
<rect x="114.50" y="353.51" width="10.40" height="1.40" rx="0.70" fill="#000" fill-opacity="0.200"/>
<rect x="126.40" y="353.47" width="10.40" height="1.40" rx="0.70" fill="#000" fill-opacity="0.200"/>
<rect x="138.20" y="353.43" width="10.40" height="1.40" rx="0.70" fill="#000" fill-opacity="0.200"/>
<rect x="150.35" y="353.39" width="10.40" height="1.40" rx="0.70" fill="#000" fill-opacity="0.200"/>
<rect x="162.75" y="353.34" width="10.40" height="1.40" rx="0.70" fill="#000" fill-opacity="0.200"/>
<rect x="174.70" y="353.30" width="10.40" height="1.40" rx="0.70" fill="#000" fill-opacity="0.200"/>
<rect x="8.70" y="364.00" width="10.40" height="8.0" rx="0.8" fill="#000" fill-opacity="0.5"/>
<rect x="8.70" y="365.50" width="3.64" height="5" fill="#000" fill-opacity="0.25"/>
<rect x="8.70" y="372.00" width="10.40" height="10" fill="url(#retBsm)"/>
<rect x="20.05" y="363.89" width="10.40" height="8.0" rx="0.8" fill="#000" fill-opacity="0.5"/>
<rect x="20.05" y="365.39" width="3.64" height="5" fill="#000" fill-opacity="0.25"/>
<rect x="20.05" y="371.89" width="10.40" height="10" fill="url(#retBsm)"/>
<rect x="31.30" y="363.77" width="10.40" height="8.0" rx="0.8" fill="#000" fill-opacity="0.5"/>
<rect x="31.30" y="365.27" width="3.64" height="5" fill="#000" fill-opacity="0.25"/>
<rect x="31.30" y="371.77" width="10.40" height="10" fill="url(#retBsm)"/>
<rect x="42.85" y="363.66" width="10.40" height="8.0" rx="0.8" fill="#000" fill-opacity="0.5"/>
<rect x="42.85" y="365.16" width="3.64" height="5" fill="#000" fill-opacity="0.25"/>
<rect x="42.85" y="371.66" width="10.40" height="10" fill="url(#retBsm)"/>
<rect x="54.70" y="363.54" width="10.40" height="8.0" rx="0.8" fill="#000" fill-opacity="0.5"/>
<rect x="54.70" y="365.04" width="3.64" height="5" fill="#000" fill-opacity="0.25"/>
<rect x="54.70" y="371.54" width="10.40" height="10" fill="url(#retBsm)"/>
<rect x="66.60" y="363.43" width="10.40" height="8.0" rx="0.8" fill="#000" fill-opacity="0.5"/>
<rect x="66.60" y="364.93" width="3.64" height="5" fill="#000" fill-opacity="0.25"/>
<rect x="66.60" y="371.43" width="10.40" height="10" fill="url(#retBsm)"/>
<rect x="78.55" y="363.31" width="10.40" height="8.0" rx="0.8" fill="#000" fill-opacity="0.5"/>
<rect x="78.55" y="364.81" width="3.64" height="5" fill="#000" fill-opacity="0.25"/>
<rect x="78.55" y="371.31" width="10.40" height="10" fill="url(#retBsm)"/>
<rect x="90.50" y="363.20" width="10.40" height="8.0" rx="0.8" fill="#000" fill-opacity="0.5"/>
<rect x="90.50" y="364.70" width="3.64" height="5" fill="#000" fill-opacity="0.25"/>
<rect x="90.50" y="371.20" width="10.40" height="10" fill="url(#retBsm)"/>
<rect x="102.45" y="363.09" width="10.40" height="8.0" rx="0.8" fill="#000" fill-opacity="0.5"/>
<rect x="102.45" y="364.59" width="3.64" height="5" fill="#000" fill-opacity="0.25"/>
<rect x="102.45" y="371.09" width="10.40" height="10" fill="url(#retBsm)"/>
<rect x="114.50" y="362.97" width="10.40" height="8.0" rx="0.8" fill="#000" fill-opacity="0.5"/>
<rect x="114.50" y="364.47" width="3.64" height="5" fill="#000" fill-opacity="0.25"/>
<rect x="114.50" y="370.97" width="10.40" height="10" fill="url(#retBsm)"/>
<rect x="126.40" y="362.86" width="10.40" height="8.0" rx="0.8" fill="#000" fill-opacity="0.5"/>
<rect x="126.40" y="364.36" width="3.64" height="5" fill="#000" fill-opacity="0.25"/>
<rect x="126.40" y="370.86" width="10.40" height="10" fill="url(#retBsm)"/>
<rect x="138.20" y="362.74" width="10.40" height="8.0" rx="0.8" fill="#000" fill-opacity="0.5"/>
<rect x="138.20" y="364.24" width="3.64" height="5" fill="#000" fill-opacity="0.25"/>
<rect x="138.20" y="370.74" width="10.40" height="10" fill="url(#retBsm)"/>
<rect x="150.35" y="362.63" width="10.40" height="8.0" rx="0.8" fill="#000" fill-opacity="0.5"/>
<rect x="150.35" y="364.13" width="3.64" height="5" fill="#000" fill-opacity="0.25"/>
<rect x="150.35" y="370.63" width="10.40" height="10" fill="url(#retBsm)"/>
<rect x="162.75" y="362.51" width="10.40" height="8.0" rx="0.8" fill="#000" fill-opacity="0.5"/>
<rect x="162.75" y="364.01" width="3.64" height="5" fill="#000" fill-opacity="0.25"/>
<rect x="162.75" y="370.51" width="10.40" height="10" fill="url(#retBsm)"/>
<rect x="174.70" y="362.40" width="10.40" height="8.0" rx="0.8" fill="#000" fill-opacity="0.5"/>
<rect x="174.70" y="363.90" width="3.64" height="5" fill="#000" fill-opacity="0.25"/>
<rect x="174.70" y="370.40" width="10.40" height="10" fill="url(#retBsm)"/>
</g>
<g filter="url(#b5)">
<rect x="8.70" y="293.10" width="10.40" height="2.80" rx="0.70" fill="#000" fill-opacity="0.850"/>
<rect x="20.05" y="293.40" width="10.40" height="2.80" rx="0.70" fill="#000" fill-opacity="0.250"/>
<rect x="31.30" y="293.60" width="10.40" height="2.80" rx="0.70" fill="#000" fill-opacity="0.050"/>
<rect x="42.85" y="293.60" width="10.40" height="2.80" rx="0.70" fill="#000" fill-opacity="0.040"/>
<rect x="54.70" y="293.60" width="10.40" height="2.80" rx="0.70" fill="#000" fill-opacity="0.040"/>
<rect x="66.60" y="295.00" width="10.40" height="2.80" rx="0.70" fill="#000" fill-opacity="0.720"/>
<rect x="78.55" y="295.00" width="10.40" height="2.80" rx="0.70" fill="#000" fill-opacity="0.720"/>
<rect x="90.50" y="295.00" width="10.40" height="2.80" rx="0.70" fill="#000" fill-opacity="0.620"/>
<rect x="102.45" y="294.80" width="10.40" height="2.80" rx="0.70" fill="#000" fill-opacity="0.100"/>
<rect x="114.50" y="294.80" width="10.40" height="2.80" rx="0.70" fill="#000" fill-opacity="0.080"/>
<rect x="126.40" y="294.40" width="10.40" height="2.80" rx="0.70" fill="#000" fill-opacity="0.600"/>
<rect x="138.20" y="294.40" width="10.40" height="2.80" rx="0.70" fill="#000" fill-opacity="0.600"/>
<rect x="150.35" y="294.70" width="10.40" height="2.80" rx="0.70" fill="#000" fill-opacity="0.900"/>
<rect x="162.75" y="294.70" width="10.40" height="2.80" rx="0.70" fill="#000" fill-opacity="0.900"/>
<rect x="174.70" y="294.70" width="10.40" height="2.80" rx="0.70" fill="#000" fill-opacity="0.120"/>
<rect x="8.70" y="311.60" width="10.40" height="2.20" rx="0.70" fill="#000" fill-opacity="0.970"/>
<rect x="20.05" y="311.90" width="10.40" height="2.20" rx="0.70" fill="#000" fill-opacity="0.250"/>
<rect x="66.60" y="313.40" width="10.40" height="2.20" rx="0.70" fill="#000" fill-opacity="0.920"/>
<rect x="78.55" y="313.40" width="10.40" height="2.20" rx="0.70" fill="#000" fill-opacity="0.880"/>
<rect x="90.50" y="313.40" width="10.40" height="2.20" rx="0.70" fill="#000" fill-opacity="0.750"/>
<rect x="126.40" y="313.40" width="10.40" height="2.20" rx="0.70" fill="#000" fill-opacity="0.970"/>
<rect x="138.20" y="313.40" width="10.40" height="2.20" rx="0.70" fill="#000" fill-opacity="0.970"/>
<rect x="150.35" y="313.40" width="10.40" height="2.20" rx="0.70" fill="#000" fill-opacity="0.970"/>
<rect x="162.75" y="313.40" width="10.40" height="2.20" rx="0.70" fill="#000" fill-opacity="0.550"/>
<rect x="174.70" y="313.40" width="10.40" height="2.20" rx="0.70" fill="#000" fill-opacity="0.050"/>
<rect x="8.70" y="344.10" width="10.40" height="3.60" rx="0.70" fill="#000" fill-opacity="0.980"/>
<rect x="20.05" y="344.06" width="10.40" height="3.60" rx="0.70" fill="#000" fill-opacity="0.800"/>
<rect x="31.30" y="344.03" width="10.40" height="3.60" rx="0.70" fill="#000" fill-opacity="0.180"/>
<rect x="42.85" y="343.99" width="10.40" height="3.60" rx="0.70" fill="#000" fill-opacity="0.150"/>
<rect x="54.70" y="343.96" width="10.40" height="3.60" rx="0.70" fill="#000" fill-opacity="0.150"/>
<rect x="66.60" y="343.92" width="10.40" height="3.60" rx="0.70" fill="#000" fill-opacity="0.980"/>
<rect x="78.55" y="343.89" width="10.40" height="3.60" rx="0.70" fill="#000" fill-opacity="0.980"/>
<rect x="90.50" y="343.85" width="10.40" height="3.60" rx="0.70" fill="#000" fill-opacity="0.950"/>
<rect x="102.45" y="343.81" width="10.40" height="3.60" rx="0.70" fill="#000" fill-opacity="0.300"/>
<rect x="114.50" y="343.78" width="10.40" height="3.60" rx="0.70" fill="#000" fill-opacity="0.220"/>
<rect x="126.40" y="343.74" width="10.40" height="3.60" rx="0.70" fill="#000" fill-opacity="0.980"/>
<rect x="138.20" y="343.71" width="10.40" height="3.60" rx="0.70" fill="#000" fill-opacity="0.980"/>
<rect x="150.35" y="343.67" width="10.40" height="3.60" rx="0.70" fill="#000" fill-opacity="0.950"/>
<rect x="162.75" y="343.64" width="10.40" height="3.60" rx="0.70" fill="#000" fill-opacity="0.300"/>
<rect x="174.70" y="343.60" width="10.40" height="3.60" rx="0.70" fill="#000" fill-opacity="0.180"/>
<rect x="8.70" y="394.70" width="10.40" height="3.80" rx="0.70" fill="#000" fill-opacity="0.970"/>
<rect x="20.05" y="394.44" width="10.40" height="3.80" rx="0.70" fill="#000" fill-opacity="0.970"/>
<rect x="31.30" y="394.19" width="10.40" height="3.80" rx="0.70" fill="#000" fill-opacity="0.970"/>
<rect x="42.85" y="393.93" width="10.40" height="3.80" rx="0.70" fill="#000" fill-opacity="0.970"/>
<rect x="54.70" y="393.67" width="10.40" height="3.80" rx="0.70" fill="#000" fill-opacity="0.970"/>
<rect x="66.60" y="393.41" width="10.40" height="3.80" rx="0.70" fill="#000" fill-opacity="0.970"/>
<rect x="78.55" y="393.16" width="10.40" height="3.80" rx="0.70" fill="#000" fill-opacity="0.970"/>
<rect x="90.50" y="392.90" width="10.40" height="3.80" rx="0.70" fill="#000" fill-opacity="0.970"/>
<rect x="102.45" y="392.64" width="10.40" height="3.80" rx="0.70" fill="#000" fill-opacity="0.970"/>
<rect x="114.50" y="392.39" width="10.40" height="3.80" rx="0.70" fill="#000" fill-opacity="0.970"/>
<rect x="126.40" y="392.13" width="10.40" height="3.80" rx="0.70" fill="#000" fill-opacity="0.970"/>
<rect x="138.20" y="391.87" width="10.40" height="3.80" rx="0.70" fill="#000" fill-opacity="0.970"/>
<rect x="150.35" y="391.61" width="10.40" height="3.80" rx="0.70" fill="#000" fill-opacity="0.970"/>
<rect x="162.75" y="391.36" width="10.40" height="3.80" rx="0.70" fill="#000" fill-opacity="0.970"/>
<rect x="174.70" y="391.10" width="10.40" height="3.80" rx="0.70" fill="#000" fill-opacity="0.970"/>
<rect x="8.70" y="392.00" width="10.40" height="2.00" rx="0.70" fill="#000" fill-opacity="0.250"/>
<rect x="20.05" y="391.76" width="10.40" height="2.00" rx="0.70" fill="#000" fill-opacity="0.250"/>
<rect x="31.30" y="391.51" width="10.40" height="2.00" rx="0.70" fill="#000" fill-opacity="0.250"/>
<rect x="42.85" y="391.27" width="10.40" height="2.00" rx="0.70" fill="#000" fill-opacity="0.250"/>
<rect x="54.70" y="391.03" width="10.40" height="2.00" rx="0.70" fill="#000" fill-opacity="0.250"/>
<rect x="66.60" y="390.79" width="10.40" height="2.00" rx="0.70" fill="#000" fill-opacity="0.250"/>
<rect x="78.55" y="390.54" width="10.40" height="2.00" rx="0.70" fill="#000" fill-opacity="0.250"/>
<rect x="90.50" y="390.30" width="10.40" height="2.00" rx="0.70" fill="#000" fill-opacity="0.250"/>
<rect x="102.45" y="390.06" width="10.40" height="2.00" rx="0.70" fill="#000" fill-opacity="0.250"/>
<rect x="114.50" y="389.81" width="10.40" height="2.00" rx="0.70" fill="#000" fill-opacity="0.250"/>
<rect x="126.40" y="389.57" width="10.40" height="2.00" rx="0.70" fill="#000" fill-opacity="0.250"/>
<rect x="138.20" y="389.33" width="10.40" height="2.00" rx="0.70" fill="#000" fill-opacity="0.250"/>
<rect x="150.35" y="389.09" width="10.40" height="2.00" rx="0.70" fill="#000" fill-opacity="0.250"/>
<rect x="162.75" y="388.84" width="10.40" height="2.00" rx="0.70" fill="#000" fill-opacity="0.250"/>
<rect x="174.70" y="388.60" width="10.40" height="2.00" rx="0.70" fill="#000" fill-opacity="0.250"/>
<rect x="8.70" y="404.30" width="10.40" height="2.00" rx="0.70" fill="#000" fill-opacity="0.850"/>
<rect x="20.05" y="404.09" width="10.40" height="2.00" rx="0.70" fill="#000" fill-opacity="0.850"/>
<rect x="31.30" y="403.89" width="10.40" height="2.00" rx="0.70" fill="#000" fill-opacity="0.850"/>
<rect x="42.85" y="403.68" width="10.40" height="2.00" rx="0.70" fill="#000" fill-opacity="0.850"/>
<rect x="54.70" y="403.47" width="10.40" height="2.00" rx="0.70" fill="#000" fill-opacity="0.850"/>
<rect x="66.60" y="403.26" width="10.40" height="2.00" rx="0.70" fill="#000" fill-opacity="0.850"/>
<rect x="78.55" y="403.06" width="10.40" height="2.00" rx="0.70" fill="#000" fill-opacity="0.850"/>
<rect x="90.50" y="402.85" width="10.40" height="2.00" rx="0.70" fill="#000" fill-opacity="0.850"/>
<rect x="102.45" y="402.64" width="10.40" height="2.00" rx="0.70" fill="#000" fill-opacity="0.850"/>
<rect x="114.50" y="402.44" width="10.40" height="2.00" rx="0.70" fill="#000" fill-opacity="0.850"/>
<rect x="126.40" y="402.23" width="10.40" height="2.00" rx="0.70" fill="#000" fill-opacity="0.850"/>
<rect x="138.20" y="402.02" width="10.40" height="2.00" rx="0.70" fill="#000" fill-opacity="0.850"/>
<rect x="150.35" y="401.81" width="10.40" height="2.00" rx="0.70" fill="#000" fill-opacity="0.850"/>
<rect x="162.75" y="401.61" width="10.40" height="2.00" rx="0.70" fill="#000" fill-opacity="0.850"/>
<rect x="174.70" y="401.40" width="10.40" height="2.00" rx="0.70" fill="#000" fill-opacity="0.850"/>
<rect x="8.70" y="408.60" width="10.40" height="2.00" rx="0.70" fill="#000" fill-opacity="0.850"/>
<rect x="20.05" y="408.39" width="10.40" height="2.00" rx="0.70" fill="#000" fill-opacity="0.850"/>
<rect x="31.30" y="408.17" width="10.40" height="2.00" rx="0.70" fill="#000" fill-opacity="0.850"/>
<rect x="42.85" y="407.96" width="10.40" height="2.00" rx="0.70" fill="#000" fill-opacity="0.850"/>
<rect x="54.70" y="407.74" width="10.40" height="2.00" rx="0.70" fill="#000" fill-opacity="0.850"/>
<rect x="66.60" y="407.53" width="10.40" height="2.00" rx="0.70" fill="#000" fill-opacity="0.850"/>
<rect x="78.55" y="407.31" width="10.40" height="2.00" rx="0.70" fill="#000" fill-opacity="0.850"/>
<rect x="90.50" y="407.10" width="10.40" height="2.00" rx="0.70" fill="#000" fill-opacity="0.850"/>
<rect x="102.45" y="406.89" width="10.40" height="2.00" rx="0.70" fill="#000" fill-opacity="0.850"/>
<rect x="114.50" y="406.67" width="10.40" height="2.00" rx="0.70" fill="#000" fill-opacity="0.850"/>
<rect x="126.40" y="406.46" width="10.40" height="2.00" rx="0.70" fill="#000" fill-opacity="0.850"/>
<rect x="138.20" y="406.24" width="10.40" height="2.00" rx="0.70" fill="#000" fill-opacity="0.850"/>
<rect x="150.35" y="406.03" width="10.40" height="2.00" rx="0.70" fill="#000" fill-opacity="0.850"/>
<rect x="162.75" y="405.81" width="10.40" height="2.00" rx="0.70" fill="#000" fill-opacity="0.850"/>
<rect x="174.70" y="405.60" width="10.40" height="2.00" rx="0.70" fill="#000" fill-opacity="0.850"/>
<rect x="8.70" y="428.15" width="10.40" height="1.90" rx="0.70" fill="#000" fill-opacity="0.920"/>
<rect x="20.05" y="428.10" width="10.40" height="1.90" rx="0.70" fill="#000" fill-opacity="0.920"/>
<rect x="31.30" y="428.05" width="10.40" height="1.90" rx="0.70" fill="#000" fill-opacity="0.920"/>
<rect x="42.85" y="428.00" width="10.40" height="1.90" rx="0.70" fill="#000" fill-opacity="0.920"/>
<rect x="54.70" y="427.95" width="10.40" height="1.90" rx="0.70" fill="#000" fill-opacity="0.920"/>
<rect x="66.60" y="427.90" width="10.40" height="1.90" rx="0.70" fill="#000" fill-opacity="0.920"/>
<rect x="78.55" y="427.85" width="10.40" height="1.90" rx="0.70" fill="#000" fill-opacity="0.920"/>
<rect x="90.50" y="427.80" width="10.40" height="1.90" rx="0.70" fill="#000" fill-opacity="0.920"/>
<rect x="102.45" y="427.75" width="10.40" height="1.90" rx="0.70" fill="#000" fill-opacity="0.920"/>
<rect x="114.50" y="427.70" width="10.40" height="1.90" rx="0.70" fill="#000" fill-opacity="0.920"/>
<rect x="126.40" y="427.65" width="10.40" height="1.90" rx="0.70" fill="#000" fill-opacity="0.920"/>
<rect x="138.20" y="427.60" width="10.40" height="1.90" rx="0.70" fill="#000" fill-opacity="0.920"/>
<rect x="150.35" y="427.55" width="10.40" height="1.90" rx="0.70" fill="#000" fill-opacity="0.920"/>
<rect x="162.75" y="427.50" width="10.40" height="1.90" rx="0.70" fill="#000" fill-opacity="0.920"/>
<rect x="174.70" y="427.45" width="10.40" height="1.90" rx="0.70" fill="#000" fill-opacity="0.920"/>
<rect x="8.70" y="431.35" width="10.40" height="2.10" rx="0.70" fill="#000" fill-opacity="0.970"/>
<rect x="20.05" y="431.26" width="10.40" height="2.10" rx="0.70" fill="#000" fill-opacity="0.970"/>
<rect x="31.30" y="431.18" width="10.40" height="2.10" rx="0.70" fill="#000" fill-opacity="0.970"/>
<rect x="42.85" y="431.09" width="10.40" height="2.10" rx="0.70" fill="#000" fill-opacity="0.970"/>
<rect x="54.70" y="431.01" width="10.40" height="2.10" rx="0.70" fill="#000" fill-opacity="0.970"/>
<rect x="66.60" y="430.92" width="10.40" height="2.10" rx="0.70" fill="#000" fill-opacity="0.970"/>
<rect x="78.55" y="430.84" width="10.40" height="2.10" rx="0.70" fill="#000" fill-opacity="0.970"/>
<rect x="90.50" y="430.75" width="10.40" height="2.10" rx="0.70" fill="#000" fill-opacity="0.970"/>
<rect x="102.45" y="430.66" width="10.40" height="2.10" rx="0.70" fill="#000" fill-opacity="0.970"/>
<rect x="114.50" y="430.58" width="10.40" height="2.10" rx="0.70" fill="#000" fill-opacity="0.970"/>
<rect x="126.40" y="430.49" width="10.40" height="2.10" rx="0.70" fill="#000" fill-opacity="0.970"/>
<rect x="138.20" y="430.41" width="10.40" height="2.10" rx="0.70" fill="#000" fill-opacity="0.970"/>
<rect x="150.35" y="430.32" width="10.40" height="2.10" rx="0.70" fill="#000" fill-opacity="0.970"/>
<rect x="162.75" y="430.24" width="10.40" height="2.10" rx="0.70" fill="#000" fill-opacity="0.970"/>
<rect x="174.70" y="430.15" width="10.40" height="2.10" rx="0.70" fill="#000" fill-opacity="0.970"/>
</g>
<rect x="6.60" y="513.7" width="180.80" height="154.50" fill="#7e7e7e"/>
<rect x="7.80" y="515.00" width="178.40" height="20.50" fill="#cdcdcd"/>
<rect x="7.80" y="537.90" width="178.40" height="23.70" fill="#d6d6d6"/>
<rect x="7.80" y="564.20" width="178.40" height="20.00" fill="#dcdcdc"/>
<rect x="7.80" y="586.90" width="178.40" height="24.10" fill="#d6d6d6"/>
<rect x="7.80" y="614.20" width="178.40" height="21.60" fill="#d8d8d8"/>
<rect x="7.80" y="639.20" width="178.40" height="27.40" fill="#e0e0e0"/>
<g filter="url(#b5)">
<rect x="21.28" y="515.00" width="1.80" height="20.50" fill="#e6e6e6"/>
<rect x="33.02" y="515.00" width="1.80" height="20.50" fill="#e6e6e6"/>
<rect x="44.77" y="515.00" width="1.80" height="20.50" fill="#e6e6e6"/>
<rect x="56.52" y="515.00" width="1.80" height="20.50" fill="#e6e6e6"/>
<rect x="68.27" y="515.00" width="1.80" height="20.50" fill="#e6e6e6"/>
<rect x="80.02" y="515.00" width="1.80" height="20.50" fill="#e6e6e6"/>
<rect x="91.77" y="515.00" width="1.80" height="20.50" fill="#e6e6e6"/>
<rect x="103.52" y="515.00" width="1.80" height="20.50" fill="#e6e6e6"/>
<rect x="115.27" y="515.00" width="1.80" height="20.50" fill="#e6e6e6"/>
<rect x="127.03" y="515.00" width="1.80" height="20.50" fill="#e6e6e6"/>
<rect x="138.78" y="515.00" width="1.80" height="20.50" fill="#e6e6e6"/>
<rect x="150.53" y="515.00" width="1.80" height="20.50" fill="#e6e6e6"/>
<rect x="162.28" y="515.00" width="1.80" height="20.50" fill="#e6e6e6"/>
<rect x="174.03" y="515.00" width="1.80" height="20.50" fill="#e6e6e6"/>
</g>
<g filter="url(#b5)">
<rect x="21.28" y="537.90" width="1.80" height="23.70" fill="#eaeaea"/>
<rect x="33.02" y="537.90" width="1.80" height="23.70" fill="#eaeaea"/>
<rect x="44.77" y="537.90" width="1.80" height="23.70" fill="#eaeaea"/>
<rect x="56.52" y="537.90" width="1.80" height="23.70" fill="#eaeaea"/>
<rect x="68.27" y="537.90" width="1.80" height="23.70" fill="#eaeaea"/>
<rect x="80.02" y="537.90" width="1.80" height="23.70" fill="#eaeaea"/>
<rect x="91.77" y="537.90" width="1.80" height="23.70" fill="#eaeaea"/>
<rect x="103.52" y="537.90" width="1.80" height="23.70" fill="#eaeaea"/>
<rect x="115.27" y="537.90" width="1.80" height="23.70" fill="#eaeaea"/>
<rect x="127.03" y="537.90" width="1.80" height="23.70" fill="#eaeaea"/>
<rect x="138.78" y="537.90" width="1.80" height="23.70" fill="#eaeaea"/>
<rect x="150.53" y="537.90" width="1.80" height="23.70" fill="#eaeaea"/>
<rect x="162.28" y="537.90" width="1.80" height="23.70" fill="#eaeaea"/>
<rect x="174.03" y="537.90" width="1.80" height="23.70" fill="#eaeaea"/>
</g>
<g filter="url(#b5)">
<rect x="21.28" y="564.20" width="1.80" height="20.00" fill="#ececec"/>
<rect x="33.02" y="564.20" width="1.80" height="20.00" fill="#ececec"/>
<rect x="44.77" y="564.20" width="1.80" height="20.00" fill="#ececec"/>
<rect x="56.52" y="564.20" width="1.80" height="20.00" fill="#ececec"/>
<rect x="68.27" y="564.20" width="1.80" height="20.00" fill="#ececec"/>
<rect x="80.02" y="564.20" width="1.80" height="20.00" fill="#ececec"/>
<rect x="91.77" y="564.20" width="1.80" height="20.00" fill="#ececec"/>
<rect x="103.52" y="564.20" width="1.80" height="20.00" fill="#ececec"/>
<rect x="115.27" y="564.20" width="1.80" height="20.00" fill="#ececec"/>
<rect x="127.03" y="564.20" width="1.80" height="20.00" fill="#ececec"/>
<rect x="138.78" y="564.20" width="1.80" height="20.00" fill="#ececec"/>
<rect x="150.53" y="564.20" width="1.80" height="20.00" fill="#ececec"/>
<rect x="162.28" y="564.20" width="1.80" height="20.00" fill="#ececec"/>
<rect x="174.03" y="564.20" width="1.80" height="20.00" fill="#ececec"/>
</g>
<g filter="url(#b5)">
<rect x="21.28" y="586.90" width="1.80" height="24.10" fill="#e8e8e8"/>
<rect x="33.02" y="586.90" width="1.80" height="24.10" fill="#e8e8e8"/>
<rect x="44.77" y="586.90" width="1.80" height="24.10" fill="#e8e8e8"/>
<rect x="56.52" y="586.90" width="1.80" height="24.10" fill="#e8e8e8"/>
<rect x="68.27" y="586.90" width="1.80" height="24.10" fill="#e8e8e8"/>
<rect x="80.02" y="586.90" width="1.80" height="24.10" fill="#e8e8e8"/>
<rect x="91.77" y="586.90" width="1.80" height="24.10" fill="#e8e8e8"/>
<rect x="103.52" y="586.90" width="1.80" height="24.10" fill="#e8e8e8"/>
<rect x="115.27" y="586.90" width="1.80" height="24.10" fill="#e8e8e8"/>
<rect x="127.03" y="586.90" width="1.80" height="24.10" fill="#e8e8e8"/>
<rect x="138.78" y="586.90" width="1.80" height="24.10" fill="#e8e8e8"/>
<rect x="150.53" y="586.90" width="1.80" height="24.10" fill="#e8e8e8"/>
<rect x="162.28" y="586.90" width="1.80" height="24.10" fill="#e8e8e8"/>
<rect x="174.03" y="586.90" width="1.80" height="24.10" fill="#e8e8e8"/>
</g>
<g filter="url(#b5)">
<rect x="21.28" y="614.20" width="1.80" height="21.60" fill="#eaeaea"/>
<rect x="33.02" y="614.20" width="1.80" height="21.60" fill="#eaeaea"/>
<rect x="44.77" y="614.20" width="1.80" height="21.60" fill="#eaeaea"/>
<rect x="56.52" y="614.20" width="1.80" height="21.60" fill="#eaeaea"/>
<rect x="68.27" y="614.20" width="1.80" height="21.60" fill="#eaeaea"/>
<rect x="80.02" y="614.20" width="1.80" height="21.60" fill="#eaeaea"/>
<rect x="91.77" y="614.20" width="1.80" height="21.60" fill="#eaeaea"/>
<rect x="103.52" y="614.20" width="1.80" height="21.60" fill="#eaeaea"/>
<rect x="115.27" y="614.20" width="1.80" height="21.60" fill="#eaeaea"/>
<rect x="127.03" y="614.20" width="1.80" height="21.60" fill="#eaeaea"/>
<rect x="138.78" y="614.20" width="1.80" height="21.60" fill="#eaeaea"/>
<rect x="150.53" y="614.20" width="1.80" height="21.60" fill="#eaeaea"/>
<rect x="162.28" y="614.20" width="1.80" height="21.60" fill="#eaeaea"/>
<rect x="174.03" y="614.20" width="1.80" height="21.60" fill="#eaeaea"/>
</g>
<g filter="url(#b5)">
<rect x="21.28" y="639.20" width="1.80" height="27.40" fill="#e4e4e4"/>
<rect x="33.02" y="639.20" width="1.80" height="27.40" fill="#e4e4e4"/>
<rect x="44.77" y="639.20" width="1.80" height="27.40" fill="#e4e4e4"/>
<rect x="56.52" y="639.20" width="1.80" height="27.40" fill="#e4e4e4"/>
<rect x="68.27" y="639.20" width="1.80" height="27.40" fill="#e4e4e4"/>
<rect x="80.02" y="639.20" width="1.80" height="27.40" fill="#e4e4e4"/>
<rect x="91.77" y="639.20" width="1.80" height="27.40" fill="#e4e4e4"/>
<rect x="103.52" y="639.20" width="1.80" height="27.40" fill="#e4e4e4"/>
<rect x="115.27" y="639.20" width="1.80" height="27.40" fill="#e4e4e4"/>
<rect x="127.03" y="639.20" width="1.80" height="27.40" fill="#e4e4e4"/>
<rect x="138.78" y="639.20" width="1.80" height="27.40" fill="#e4e4e4"/>
<rect x="150.53" y="639.20" width="1.80" height="27.40" fill="#e4e4e4"/>
<rect x="162.28" y="639.20" width="1.80" height="27.40" fill="#e4e4e4"/>
<rect x="174.03" y="639.20" width="1.80" height="27.40" fill="#e4e4e4"/>
</g>
<linearGradient id="retCsm" x1="0" y1="0" x2="0" y2="1"><stop offset="0" stop-color="#000" stop-opacity="0.5"/><stop offset="1" stop-color="#000" stop-opacity="0.08"/></linearGradient>
<g filter="url(#b6)">
<rect x="11.15" y="525.10" width="10.30" height="3.00" rx="0.70" fill="#000" fill-opacity="0.720"/>
<rect x="22.90" y="525.03" width="10.30" height="3.00" rx="0.70" fill="#000" fill-opacity="0.720"/>
<rect x="34.65" y="524.96" width="10.30" height="3.00" rx="0.70" fill="#000" fill-opacity="0.520"/>
<rect x="46.40" y="524.89" width="10.30" height="3.00" rx="0.70" fill="#000" fill-opacity="0.120"/>
<rect x="58.15" y="524.81" width="10.30" height="3.00" rx="0.70" fill="#000" fill-opacity="0.100"/>
<rect x="69.90" y="524.74" width="10.30" height="3.00" rx="0.70" fill="#000" fill-opacity="0.620"/>
<rect x="81.65" y="524.67" width="10.30" height="3.00" rx="0.70" fill="#000" fill-opacity="0.620"/>
<rect x="93.40" y="524.60" width="10.30" height="3.00" rx="0.70" fill="#000" fill-opacity="0.620"/>
<rect x="105.15" y="524.53" width="10.30" height="3.00" rx="0.70" fill="#000" fill-opacity="0.580"/>
<rect x="116.90" y="524.46" width="10.30" height="3.00" rx="0.70" fill="#000" fill-opacity="0.080"/>
<rect x="128.65" y="524.39" width="10.30" height="3.00" rx="0.70" fill="#000" fill-opacity="0.580"/>
<rect x="140.40" y="524.31" width="10.30" height="3.00" rx="0.70" fill="#000" fill-opacity="0.580"/>
<rect x="152.15" y="524.24" width="10.30" height="3.00" rx="0.70" fill="#000" fill-opacity="0.580"/>
<rect x="163.90" y="524.17" width="10.30" height="3.00" rx="0.70" fill="#000" fill-opacity="0.580"/>
<rect x="175.65" y="524.10" width="10.30" height="3.00" rx="0.70" fill="#000" fill-opacity="0.480"/>
<rect x="11.15" y="520.80" width="10.30" height="1.40" rx="0.70" fill="#000" fill-opacity="0.140"/>
<rect x="22.90" y="520.76" width="10.30" height="1.40" rx="0.70" fill="#000" fill-opacity="0.140"/>
<rect x="34.65" y="520.73" width="10.30" height="1.40" rx="0.70" fill="#000" fill-opacity="0.140"/>
<rect x="46.40" y="520.69" width="10.30" height="1.40" rx="0.70" fill="#000" fill-opacity="0.140"/>
<rect x="58.15" y="520.66" width="10.30" height="1.40" rx="0.70" fill="#000" fill-opacity="0.140"/>
<rect x="69.90" y="520.62" width="10.30" height="1.40" rx="0.70" fill="#000" fill-opacity="0.140"/>
<rect x="81.65" y="520.59" width="10.30" height="1.40" rx="0.70" fill="#000" fill-opacity="0.140"/>
<rect x="93.40" y="520.55" width="10.30" height="1.40" rx="0.70" fill="#000" fill-opacity="0.140"/>
<rect x="105.15" y="520.51" width="10.30" height="1.40" rx="0.70" fill="#000" fill-opacity="0.140"/>
<rect x="116.90" y="520.48" width="10.30" height="1.40" rx="0.70" fill="#000" fill-opacity="0.140"/>
<rect x="128.65" y="520.44" width="10.30" height="1.40" rx="0.70" fill="#000" fill-opacity="0.140"/>
<rect x="140.40" y="520.41" width="10.30" height="1.40" rx="0.70" fill="#000" fill-opacity="0.140"/>
<rect x="152.15" y="520.37" width="10.30" height="1.40" rx="0.70" fill="#000" fill-opacity="0.140"/>
<rect x="163.90" y="520.34" width="10.30" height="1.40" rx="0.70" fill="#000" fill-opacity="0.140"/>
<rect x="175.65" y="520.30" width="10.30" height="1.40" rx="0.70" fill="#000" fill-opacity="0.140"/>
<rect x="11.15" y="529.80" width="10.30" height="1.60" rx="0.70" fill="#000" fill-opacity="0.140"/>
<rect x="22.90" y="529.76" width="10.30" height="1.60" rx="0.70" fill="#000" fill-opacity="0.140"/>
<rect x="34.65" y="529.71" width="10.30" height="1.60" rx="0.70" fill="#000" fill-opacity="0.140"/>
<rect x="46.40" y="529.67" width="10.30" height="1.60" rx="0.70" fill="#000" fill-opacity="0.140"/>
<rect x="58.15" y="529.63" width="10.30" height="1.60" rx="0.70" fill="#000" fill-opacity="0.140"/>
<rect x="69.90" y="529.59" width="10.30" height="1.60" rx="0.70" fill="#000" fill-opacity="0.140"/>
<rect x="81.65" y="529.54" width="10.30" height="1.60" rx="0.70" fill="#000" fill-opacity="0.140"/>
<rect x="93.40" y="529.50" width="10.30" height="1.60" rx="0.70" fill="#000" fill-opacity="0.140"/>
<rect x="105.15" y="529.46" width="10.30" height="1.60" rx="0.70" fill="#000" fill-opacity="0.140"/>
<rect x="116.90" y="529.41" width="10.30" height="1.60" rx="0.70" fill="#000" fill-opacity="0.140"/>
<rect x="128.65" y="529.37" width="10.30" height="1.60" rx="0.70" fill="#000" fill-opacity="0.140"/>
<rect x="140.40" y="529.33" width="10.30" height="1.60" rx="0.70" fill="#000" fill-opacity="0.140"/>
<rect x="152.15" y="529.29" width="10.30" height="1.60" rx="0.70" fill="#000" fill-opacity="0.140"/>
<rect x="163.90" y="529.24" width="10.30" height="1.60" rx="0.70" fill="#000" fill-opacity="0.140"/>
<rect x="175.65" y="529.20" width="10.30" height="1.60" rx="0.70" fill="#000" fill-opacity="0.140"/>
<rect x="11.15" y="591.80" width="10.30" height="3" fill="#000" fill-opacity="0.12"/>
<rect x="11.15" y="594.20" width="10.30" height="7.2" rx="1" fill="#000" fill-opacity="0.85"/>
<rect x="11.15" y="595.80" width="10.30" height="3.4" fill="#000" fill-opacity="0.5"/>
<rect x="11.15" y="601.40" width="10.30" height="8.5" fill="url(#retCsm)"/>
<rect x="22.90" y="591.71" width="10.30" height="3" fill="#000" fill-opacity="0.12"/>
<rect x="22.90" y="594.11" width="10.30" height="7.2" rx="1" fill="#000" fill-opacity="0.85"/>
<rect x="22.90" y="595.71" width="10.30" height="3.4" fill="#000" fill-opacity="0.5"/>
<rect x="22.90" y="601.31" width="10.30" height="8.5" fill="url(#retCsm)"/>
<rect x="34.65" y="591.63" width="10.30" height="3" fill="#000" fill-opacity="0.12"/>
<rect x="34.65" y="594.03" width="10.30" height="7.2" rx="1" fill="#000" fill-opacity="0.85"/>
<rect x="34.65" y="595.63" width="10.30" height="3.4" fill="#000" fill-opacity="0.5"/>
<rect x="34.65" y="601.23" width="10.30" height="8.5" fill="url(#retCsm)"/>
<rect x="46.40" y="591.54" width="10.30" height="3" fill="#000" fill-opacity="0.12"/>
<rect x="46.40" y="593.94" width="10.30" height="7.2" rx="1" fill="#000" fill-opacity="0.85"/>
<rect x="46.40" y="595.54" width="10.30" height="3.4" fill="#000" fill-opacity="0.5"/>
<rect x="46.40" y="601.14" width="10.30" height="8.5" fill="url(#retCsm)"/>
<rect x="58.15" y="591.46" width="10.30" height="3" fill="#000" fill-opacity="0.12"/>
<rect x="58.15" y="593.86" width="10.30" height="7.2" rx="1" fill="#000" fill-opacity="0.85"/>
<rect x="58.15" y="595.46" width="10.30" height="3.4" fill="#000" fill-opacity="0.5"/>
<rect x="58.15" y="601.06" width="10.30" height="8.5" fill="url(#retCsm)"/>
<rect x="69.90" y="591.37" width="10.30" height="3" fill="#000" fill-opacity="0.12"/>
<rect x="69.90" y="593.77" width="10.30" height="7.2" rx="1" fill="#000" fill-opacity="0.85"/>
<rect x="69.90" y="595.37" width="10.30" height="3.4" fill="#000" fill-opacity="0.5"/>
<rect x="69.90" y="600.97" width="10.30" height="8.5" fill="url(#retCsm)"/>
<rect x="81.65" y="591.29" width="10.30" height="3" fill="#000" fill-opacity="0.12"/>
<rect x="81.65" y="593.69" width="10.30" height="7.2" rx="1" fill="#000" fill-opacity="0.85"/>
<rect x="81.65" y="595.29" width="10.30" height="3.4" fill="#000" fill-opacity="0.5"/>
<rect x="81.65" y="600.89" width="10.30" height="8.5" fill="url(#retCsm)"/>
<rect x="93.40" y="591.20" width="10.30" height="3" fill="#000" fill-opacity="0.12"/>
<rect x="93.40" y="593.60" width="10.30" height="7.2" rx="1" fill="#000" fill-opacity="0.85"/>
<rect x="93.40" y="595.20" width="10.30" height="3.4" fill="#000" fill-opacity="0.5"/>
<rect x="93.40" y="600.80" width="10.30" height="8.5" fill="url(#retCsm)"/>
<rect x="105.15" y="591.11" width="10.30" height="3" fill="#000" fill-opacity="0.12"/>
<rect x="105.15" y="593.51" width="10.30" height="7.2" rx="1" fill="#000" fill-opacity="0.85"/>
<rect x="105.15" y="595.11" width="10.30" height="3.4" fill="#000" fill-opacity="0.5"/>
<rect x="105.15" y="600.71" width="10.30" height="8.5" fill="url(#retCsm)"/>
<rect x="116.90" y="591.03" width="10.30" height="3" fill="#000" fill-opacity="0.12"/>
<rect x="116.90" y="593.43" width="10.30" height="7.2" rx="1" fill="#000" fill-opacity="0.85"/>
<rect x="116.90" y="595.03" width="10.30" height="3.4" fill="#000" fill-opacity="0.5"/>
<rect x="116.90" y="600.63" width="10.30" height="8.5" fill="url(#retCsm)"/>
<rect x="128.65" y="590.94" width="10.30" height="3" fill="#000" fill-opacity="0.12"/>
<rect x="128.65" y="593.34" width="10.30" height="7.2" rx="1" fill="#000" fill-opacity="0.85"/>
<rect x="128.65" y="594.94" width="10.30" height="3.4" fill="#000" fill-opacity="0.5"/>
<rect x="128.65" y="600.54" width="10.30" height="8.5" fill="url(#retCsm)"/>
<rect x="140.40" y="590.86" width="10.30" height="3" fill="#000" fill-opacity="0.12"/>
<rect x="140.40" y="593.26" width="10.30" height="7.2" rx="1" fill="#000" fill-opacity="0.85"/>
<rect x="140.40" y="594.86" width="10.30" height="3.4" fill="#000" fill-opacity="0.5"/>
<rect x="140.40" y="600.46" width="10.30" height="8.5" fill="url(#retCsm)"/>
<rect x="152.15" y="590.77" width="10.30" height="3" fill="#000" fill-opacity="0.12"/>
<rect x="152.15" y="593.17" width="10.30" height="7.2" rx="1" fill="#000" fill-opacity="0.85"/>
<rect x="152.15" y="594.77" width="10.30" height="3.4" fill="#000" fill-opacity="0.5"/>
<rect x="152.15" y="600.37" width="10.30" height="8.5" fill="url(#retCsm)"/>
<rect x="163.90" y="590.69" width="10.30" height="3" fill="#000" fill-opacity="0.12"/>
<rect x="163.90" y="593.09" width="10.30" height="7.2" rx="1" fill="#000" fill-opacity="0.85"/>
<rect x="163.90" y="594.69" width="10.30" height="3.4" fill="#000" fill-opacity="0.5"/>
<rect x="163.90" y="600.29" width="10.30" height="8.5" fill="url(#retCsm)"/>
<rect x="175.65" y="590.60" width="10.30" height="3" fill="#000" fill-opacity="0.12"/>
<rect x="175.65" y="593.00" width="10.30" height="7.2" rx="1" fill="#000" fill-opacity="0.85"/>
<rect x="175.65" y="594.60" width="10.30" height="3.4" fill="#000" fill-opacity="0.5"/>
<rect x="175.65" y="600.20" width="10.30" height="8.5" fill="url(#retCsm)"/>
</g>
<g filter="url(#b5)">
<rect x="11.15" y="543.50" width="10.30" height="2.00" rx="0.70" fill="#000" fill-opacity="0.950"/>
<rect x="22.90" y="543.46" width="10.30" height="2.00" rx="0.70" fill="#000" fill-opacity="0.886"/>
<rect x="34.65" y="543.43" width="10.30" height="2.00" rx="0.70" fill="#000" fill-opacity="0.734"/>
<rect x="46.40" y="543.39" width="10.30" height="2.00" rx="0.70" fill="#000" fill-opacity="0.130"/>
<rect x="58.15" y="543.36" width="10.30" height="2.00" rx="0.70" fill="#000" fill-opacity="0.130"/>
<rect x="69.90" y="543.32" width="10.30" height="2.00" rx="0.70" fill="#000" fill-opacity="0.950"/>
<rect x="81.65" y="543.29" width="10.30" height="2.00" rx="0.70" fill="#000" fill-opacity="0.950"/>
<rect x="93.40" y="543.25" width="10.30" height="2.00" rx="0.70" fill="#000" fill-opacity="0.950"/>
<rect x="105.15" y="543.21" width="10.30" height="2.00" rx="0.70" fill="#000" fill-opacity="0.918"/>
<rect x="116.90" y="543.18" width="10.30" height="2.00" rx="0.70" fill="#000" fill-opacity="0.238"/>
<rect x="128.65" y="543.14" width="10.30" height="2.00" rx="0.70" fill="#000" fill-opacity="0.994"/>
<rect x="140.40" y="543.11" width="10.30" height="2.00" rx="0.70" fill="#000" fill-opacity="0.994"/>
<rect x="152.15" y="543.07" width="10.30" height="2.00" rx="0.70" fill="#000" fill-opacity="0.994"/>
<rect x="163.90" y="543.04" width="10.30" height="2.00" rx="0.70" fill="#000" fill-opacity="0.842"/>
<rect x="175.65" y="543.00" width="10.30" height="2.00" rx="0.70" fill="#000" fill-opacity="0.518"/>
<rect x="11.15" y="553.80" width="10.30" height="1.60" rx="0.70" fill="#000" fill-opacity="0.350"/>
<rect x="22.90" y="553.69" width="10.30" height="1.60" rx="0.70" fill="#000" fill-opacity="0.350"/>
<rect x="34.65" y="553.57" width="10.30" height="1.60" rx="0.70" fill="#000" fill-opacity="0.350"/>
<rect x="46.40" y="553.46" width="10.30" height="1.60" rx="0.70" fill="#000" fill-opacity="0.080"/>
<rect x="58.15" y="553.34" width="10.30" height="1.60" rx="0.70" fill="#000" fill-opacity="0.080"/>
<rect x="69.90" y="553.23" width="10.30" height="1.60" rx="0.70" fill="#000" fill-opacity="0.350"/>
<rect x="81.65" y="553.11" width="10.30" height="1.60" rx="0.70" fill="#000" fill-opacity="0.350"/>
<rect x="93.40" y="553.00" width="10.30" height="1.60" rx="0.70" fill="#000" fill-opacity="0.350"/>
<rect x="105.15" y="552.89" width="10.30" height="1.60" rx="0.70" fill="#000" fill-opacity="0.350"/>
<rect x="116.90" y="552.77" width="10.30" height="1.60" rx="0.70" fill="#000" fill-opacity="0.080"/>
<rect x="128.65" y="552.66" width="10.30" height="1.60" rx="0.70" fill="#000" fill-opacity="0.350"/>
<rect x="140.40" y="552.54" width="10.30" height="1.60" rx="0.70" fill="#000" fill-opacity="0.350"/>
<rect x="152.15" y="552.43" width="10.30" height="1.60" rx="0.70" fill="#000" fill-opacity="0.350"/>
<rect x="163.90" y="552.31" width="10.30" height="1.60" rx="0.70" fill="#000" fill-opacity="0.350"/>
<rect x="175.65" y="552.20" width="10.30" height="1.60" rx="0.70" fill="#000" fill-opacity="0.350"/>
<rect x="11.15" y="558.30" width="10.30" height="1.60" rx="0.70" fill="#000" fill-opacity="0.350"/>
<rect x="22.90" y="558.21" width="10.30" height="1.60" rx="0.70" fill="#000" fill-opacity="0.350"/>
<rect x="34.65" y="558.13" width="10.30" height="1.60" rx="0.70" fill="#000" fill-opacity="0.350"/>
<rect x="46.40" y="558.04" width="10.30" height="1.60" rx="0.70" fill="#000" fill-opacity="0.080"/>
<rect x="58.15" y="557.96" width="10.30" height="1.60" rx="0.70" fill="#000" fill-opacity="0.080"/>
<rect x="69.90" y="557.87" width="10.30" height="1.60" rx="0.70" fill="#000" fill-opacity="0.350"/>
<rect x="81.65" y="557.79" width="10.30" height="1.60" rx="0.70" fill="#000" fill-opacity="0.350"/>
<rect x="93.40" y="557.70" width="10.30" height="1.60" rx="0.70" fill="#000" fill-opacity="0.350"/>
<rect x="105.15" y="557.61" width="10.30" height="1.60" rx="0.70" fill="#000" fill-opacity="0.350"/>
<rect x="116.90" y="557.53" width="10.30" height="1.60" rx="0.70" fill="#000" fill-opacity="0.080"/>
<rect x="128.65" y="557.44" width="10.30" height="1.60" rx="0.70" fill="#000" fill-opacity="0.350"/>
<rect x="140.40" y="557.36" width="10.30" height="1.60" rx="0.70" fill="#000" fill-opacity="0.350"/>
<rect x="152.15" y="557.27" width="10.30" height="1.60" rx="0.70" fill="#000" fill-opacity="0.350"/>
<rect x="163.90" y="557.19" width="10.30" height="1.60" rx="0.70" fill="#000" fill-opacity="0.350"/>
<rect x="175.65" y="557.10" width="10.30" height="1.60" rx="0.70" fill="#000" fill-opacity="0.350"/>
<rect x="11.15" y="574.20" width="10.30" height="1.80" rx="0.70" fill="#000" fill-opacity="1.000"/>
<rect x="22.90" y="573.94" width="10.30" height="1.80" rx="0.70" fill="#000" fill-opacity="0.880"/>
<rect x="34.65" y="573.69" width="10.30" height="1.80" rx="0.70" fill="#000" fill-opacity="0.605"/>
<rect x="46.40" y="573.43" width="10.30" height="1.80" rx="0.70" fill="#000" fill-opacity="0.088"/>
<rect x="58.15" y="573.17" width="10.30" height="1.80" rx="0.70" fill="#000" fill-opacity="0.055"/>
<rect x="69.90" y="572.91" width="10.30" height="1.80" rx="0.70" fill="#000" fill-opacity="0.935"/>
<rect x="81.65" y="572.66" width="10.30" height="1.80" rx="0.70" fill="#000" fill-opacity="0.935"/>
<rect x="93.40" y="572.40" width="10.30" height="1.80" rx="0.70" fill="#000" fill-opacity="0.935"/>
<rect x="105.15" y="572.14" width="10.30" height="1.80" rx="0.70" fill="#000" fill-opacity="0.880"/>
<rect x="116.90" y="571.89" width="10.30" height="1.80" rx="0.70" fill="#000" fill-opacity="0.110"/>
<rect x="128.65" y="571.63" width="10.30" height="1.80" rx="0.70" fill="#000" fill-opacity="0.935"/>
<rect x="140.40" y="571.37" width="10.30" height="1.80" rx="0.70" fill="#000" fill-opacity="0.935"/>
<rect x="152.15" y="571.11" width="10.30" height="1.80" rx="0.70" fill="#000" fill-opacity="0.935"/>
<rect x="163.90" y="570.86" width="10.30" height="1.80" rx="0.70" fill="#000" fill-opacity="0.935"/>
<rect x="175.65" y="570.60" width="10.30" height="1.80" rx="0.70" fill="#000" fill-opacity="0.935"/>
<rect x="11.15" y="577.70" width="10.30" height="1.80" rx="0.70" fill="#000" fill-opacity="0.874"/>
<rect x="22.90" y="577.48" width="10.30" height="1.80" rx="0.70" fill="#000" fill-opacity="0.760"/>
<rect x="34.65" y="577.26" width="10.30" height="1.80" rx="0.70" fill="#000" fill-opacity="0.522"/>
<rect x="46.40" y="577.04" width="10.30" height="1.80" rx="0.70" fill="#000" fill-opacity="0.076"/>
<rect x="58.15" y="576.81" width="10.30" height="1.80" rx="0.70" fill="#000" fill-opacity="0.048"/>
<rect x="69.90" y="576.59" width="10.30" height="1.80" rx="0.70" fill="#000" fill-opacity="0.807"/>
<rect x="81.65" y="576.37" width="10.30" height="1.80" rx="0.70" fill="#000" fill-opacity="0.807"/>
<rect x="93.40" y="576.15" width="10.30" height="1.80" rx="0.70" fill="#000" fill-opacity="0.807"/>
<rect x="105.15" y="575.93" width="10.30" height="1.80" rx="0.70" fill="#000" fill-opacity="0.760"/>
<rect x="116.90" y="575.71" width="10.30" height="1.80" rx="0.70" fill="#000" fill-opacity="0.095"/>
<rect x="128.65" y="575.49" width="10.30" height="1.80" rx="0.70" fill="#000" fill-opacity="0.807"/>
<rect x="140.40" y="575.26" width="10.30" height="1.80" rx="0.70" fill="#000" fill-opacity="0.807"/>
<rect x="152.15" y="575.04" width="10.30" height="1.80" rx="0.70" fill="#000" fill-opacity="0.807"/>
<rect x="163.90" y="574.82" width="10.30" height="1.80" rx="0.70" fill="#000" fill-opacity="0.807"/>
<rect x="175.65" y="574.60" width="10.30" height="1.80" rx="0.70" fill="#000" fill-opacity="0.807"/>
<rect x="11.15" y="617.00" width="10.30" height="2.20" rx="0.70" fill="#000" fill-opacity="0.950"/>
<rect x="22.90" y="616.83" width="10.30" height="2.20" rx="0.70" fill="#000" fill-opacity="0.950"/>
<rect x="34.65" y="616.66" width="10.30" height="2.20" rx="0.70" fill="#000" fill-opacity="0.950"/>
<rect x="46.40" y="616.49" width="10.30" height="2.20" rx="0.70" fill="#000" fill-opacity="0.950"/>
<rect x="58.15" y="616.31" width="10.30" height="2.20" rx="0.70" fill="#000" fill-opacity="0.950"/>
<rect x="69.90" y="616.14" width="10.30" height="2.20" rx="0.70" fill="#000" fill-opacity="0.950"/>
<rect x="81.65" y="615.97" width="10.30" height="2.20" rx="0.70" fill="#000" fill-opacity="0.950"/>
<rect x="93.40" y="615.80" width="10.30" height="2.20" rx="0.70" fill="#000" fill-opacity="0.950"/>
<rect x="105.15" y="615.63" width="10.30" height="2.20" rx="0.70" fill="#000" fill-opacity="0.950"/>
<rect x="116.90" y="615.46" width="10.30" height="2.20" rx="0.70" fill="#000" fill-opacity="0.950"/>
<rect x="128.65" y="615.29" width="10.30" height="2.20" rx="0.70" fill="#000" fill-opacity="0.950"/>
<rect x="140.40" y="615.11" width="10.30" height="2.20" rx="0.70" fill="#000" fill-opacity="0.950"/>
<rect x="152.15" y="614.94" width="10.30" height="2.20" rx="0.70" fill="#000" fill-opacity="0.950"/>
<rect x="163.90" y="614.77" width="10.30" height="2.20" rx="0.70" fill="#000" fill-opacity="0.950"/>
<rect x="175.65" y="614.60" width="10.30" height="2.20" rx="0.70" fill="#000" fill-opacity="0.950"/>
<rect x="11.15" y="626.45" width="10.30" height="1.70" rx="0.70" fill="#000" fill-opacity="0.450"/>
<rect x="22.90" y="626.26" width="10.30" height="1.70" rx="0.70" fill="#000" fill-opacity="0.450"/>
<rect x="34.65" y="626.08" width="10.30" height="1.70" rx="0.70" fill="#000" fill-opacity="0.450"/>
<rect x="46.40" y="625.89" width="10.30" height="1.70" rx="0.70" fill="#000" fill-opacity="0.450"/>
<rect x="58.15" y="625.71" width="10.30" height="1.70" rx="0.70" fill="#000" fill-opacity="0.450"/>
<rect x="69.90" y="625.52" width="10.30" height="1.70" rx="0.70" fill="#000" fill-opacity="0.450"/>
<rect x="81.65" y="625.34" width="10.30" height="1.70" rx="0.70" fill="#000" fill-opacity="0.450"/>
<rect x="93.40" y="625.15" width="10.30" height="1.70" rx="0.70" fill="#000" fill-opacity="0.450"/>
<rect x="105.15" y="624.96" width="10.30" height="1.70" rx="0.70" fill="#000" fill-opacity="0.450"/>
<rect x="116.90" y="624.78" width="10.30" height="1.70" rx="0.70" fill="#000" fill-opacity="0.450"/>
<rect x="128.65" y="624.59" width="10.30" height="1.70" rx="0.70" fill="#000" fill-opacity="0.450"/>
<rect x="140.40" y="624.41" width="10.30" height="1.70" rx="0.70" fill="#000" fill-opacity="0.450"/>
<rect x="152.15" y="624.22" width="10.30" height="1.70" rx="0.70" fill="#000" fill-opacity="0.450"/>
<rect x="163.90" y="624.04" width="10.30" height="1.70" rx="0.70" fill="#000" fill-opacity="0.450"/>
<rect x="175.65" y="623.85" width="10.30" height="1.70" rx="0.70" fill="#000" fill-opacity="0.450"/>
<rect x="11.15" y="630.65" width="10.30" height="1.70" rx="0.70" fill="#000" fill-opacity="0.500"/>
<rect x="22.90" y="630.45" width="10.30" height="1.70" rx="0.70" fill="#000" fill-opacity="0.500"/>
<rect x="34.65" y="630.25" width="10.30" height="1.70" rx="0.70" fill="#000" fill-opacity="0.500"/>
<rect x="46.40" y="630.05" width="10.30" height="1.70" rx="0.70" fill="#000" fill-opacity="0.500"/>
<rect x="58.15" y="629.85" width="10.30" height="1.70" rx="0.70" fill="#000" fill-opacity="0.500"/>
<rect x="69.90" y="629.65" width="10.30" height="1.70" rx="0.70" fill="#000" fill-opacity="0.500"/>
<rect x="81.65" y="629.45" width="10.30" height="1.70" rx="0.70" fill="#000" fill-opacity="0.500"/>
<rect x="93.40" y="629.25" width="10.30" height="1.70" rx="0.70" fill="#000" fill-opacity="0.500"/>
<rect x="105.15" y="629.05" width="10.30" height="1.70" rx="0.70" fill="#000" fill-opacity="0.500"/>
<rect x="116.90" y="628.85" width="10.30" height="1.70" rx="0.70" fill="#000" fill-opacity="0.500"/>
<rect x="128.65" y="628.65" width="10.30" height="1.70" rx="0.70" fill="#000" fill-opacity="0.500"/>
<rect x="140.40" y="628.45" width="10.30" height="1.70" rx="0.70" fill="#000" fill-opacity="0.500"/>
<rect x="152.15" y="628.25" width="10.30" height="1.70" rx="0.70" fill="#000" fill-opacity="0.500"/>
<rect x="163.90" y="628.05" width="10.30" height="1.70" rx="0.70" fill="#000" fill-opacity="0.500"/>
<rect x="175.65" y="627.85" width="10.30" height="1.70" rx="0.70" fill="#000" fill-opacity="0.500"/>
<rect x="11.15" y="648.65" width="10.30" height="1.50" rx="0.70" fill="#000" fill-opacity="0.420"/>
<rect x="22.90" y="648.48" width="10.30" height="1.50" rx="0.70" fill="#000" fill-opacity="0.420"/>
<rect x="34.65" y="648.31" width="10.30" height="1.50" rx="0.70" fill="#000" fill-opacity="0.420"/>
<rect x="46.40" y="648.14" width="10.30" height="1.50" rx="0.70" fill="#000" fill-opacity="0.420"/>
<rect x="58.15" y="647.96" width="10.30" height="1.50" rx="0.70" fill="#000" fill-opacity="0.420"/>
<rect x="69.90" y="647.79" width="10.30" height="1.50" rx="0.70" fill="#000" fill-opacity="0.420"/>
<rect x="81.65" y="647.62" width="10.30" height="1.50" rx="0.70" fill="#000" fill-opacity="0.420"/>
<rect x="93.40" y="647.45" width="10.30" height="1.50" rx="0.70" fill="#000" fill-opacity="0.420"/>
<rect x="105.15" y="647.28" width="10.30" height="1.50" rx="0.70" fill="#000" fill-opacity="0.420"/>
<rect x="116.90" y="647.11" width="10.30" height="1.50" rx="0.70" fill="#000" fill-opacity="0.420"/>
<rect x="128.65" y="646.94" width="10.30" height="1.50" rx="0.70" fill="#000" fill-opacity="0.420"/>
<rect x="140.40" y="646.76" width="10.30" height="1.50" rx="0.70" fill="#000" fill-opacity="0.420"/>
<rect x="152.15" y="646.59" width="10.30" height="1.50" rx="0.70" fill="#000" fill-opacity="0.420"/>
<rect x="163.90" y="646.42" width="10.30" height="1.50" rx="0.70" fill="#000" fill-opacity="0.420"/>
<rect x="175.65" y="646.25" width="10.30" height="1.50" rx="0.70" fill="#000" fill-opacity="0.420"/>
<rect x="11.15" y="652.30" width="10.30" height="1.60" rx="0.70" fill="#000" fill-opacity="0.500"/>
<rect x="22.90" y="652.11" width="10.30" height="1.60" rx="0.70" fill="#000" fill-opacity="0.500"/>
<rect x="34.65" y="651.93" width="10.30" height="1.60" rx="0.70" fill="#000" fill-opacity="0.500"/>
<rect x="46.40" y="651.74" width="10.30" height="1.60" rx="0.70" fill="#000" fill-opacity="0.500"/>
<rect x="58.15" y="651.56" width="10.30" height="1.60" rx="0.70" fill="#000" fill-opacity="0.500"/>
<rect x="69.90" y="651.37" width="10.30" height="1.60" rx="0.70" fill="#000" fill-opacity="0.500"/>
<rect x="81.65" y="651.19" width="10.30" height="1.60" rx="0.70" fill="#000" fill-opacity="0.500"/>
<rect x="93.40" y="651.00" width="10.30" height="1.60" rx="0.70" fill="#000" fill-opacity="0.500"/>
<rect x="105.15" y="650.81" width="10.30" height="1.60" rx="0.70" fill="#000" fill-opacity="0.500"/>
<rect x="116.90" y="650.63" width="10.30" height="1.60" rx="0.70" fill="#000" fill-opacity="0.500"/>
<rect x="128.65" y="650.44" width="10.30" height="1.60" rx="0.70" fill="#000" fill-opacity="0.500"/>
<rect x="140.40" y="650.26" width="10.30" height="1.60" rx="0.70" fill="#000" fill-opacity="0.500"/>
<rect x="152.15" y="650.07" width="10.30" height="1.60" rx="0.70" fill="#000" fill-opacity="0.500"/>
<rect x="163.90" y="649.89" width="10.30" height="1.60" rx="0.70" fill="#000" fill-opacity="0.500"/>
<rect x="175.65" y="649.70" width="10.30" height="1.60" rx="0.70" fill="#000" fill-opacity="0.500"/>
</g>
<text x="0.30" y="10.20" font-size="10.5" text-anchor="start" font-weight="bold" fill="#111">A</text>
<text x="97.80" y="11.60" font-size="8.2" text-anchor="middle" fill="#1a1a1a" stroke="#1a1a1a" stroke-width="0.38">LC2/ad cells</text>
<text x="39.00" y="24.90" font-size="7.1" text-anchor="middle" fill="#333" stroke="#333" stroke-width="0.22">BLU-667</text>
<text x="98.80" y="24.90" font-size="7.1" text-anchor="middle" fill="#333" stroke="#333" stroke-width="0.22">Cabozantinib</text>
<text x="155.00" y="24.90" font-size="7.1" text-anchor="middle" fill="#333" stroke="#333" stroke-width="0.22">Vandetanib</text>
<rect x="13" y="29.20" width="52.5" height="1.2" fill="#333"/>
<rect x="71" y="29.20" width="51.5" height="1.2" fill="#333"/>
<rect x="129" y="29.20" width="52" height="1.2" fill="#333"/>
<text x="21.10" y="54.50" font-size="7.0" text-anchor="start" fill="#333" stroke="#333" stroke-width="0.22" transform="rotate(-90 21.1 54.5)">0</text>
<text x="32.20" y="54.50" font-size="7.0" text-anchor="start" fill="#333" stroke="#333" stroke-width="0.22" transform="rotate(-90 32.199999999999996 54.5)">1</text>
<text x="43.90" y="54.50" font-size="7.0" text-anchor="start" fill="#333" stroke="#333" stroke-width="0.22" transform="rotate(-90 43.9 54.5)">10</text>
<text x="55.20" y="54.50" font-size="7.0" text-anchor="start" fill="#333" stroke="#333" stroke-width="0.22" transform="rotate(-90 55.199999999999996 54.5)">100</text>
<text x="66.80" y="54.50" font-size="7.0" text-anchor="start" fill="#333" stroke="#333" stroke-width="0.22" transform="rotate(-90 66.8 54.5)">1,000</text>
<text x="77.70" y="54.50" font-size="7.0" text-anchor="start" fill="#333" stroke="#333" stroke-width="0.22" transform="rotate(-90 77.7 54.5)">0</text>
<text x="88.20" y="54.50" font-size="7.0" text-anchor="start" fill="#333" stroke="#333" stroke-width="0.22" transform="rotate(-90 88.2 54.5)">1</text>
<text x="100.20" y="54.50" font-size="7.0" text-anchor="start" fill="#333" stroke="#333" stroke-width="0.22" transform="rotate(-90 100.2 54.5)">10</text>
<text x="111.30" y="54.50" font-size="7.0" text-anchor="start" fill="#333" stroke="#333" stroke-width="0.22" transform="rotate(-90 111.3 54.5)">100</text>
<text x="121.30" y="54.50" font-size="7.0" text-anchor="start" fill="#333" stroke="#333" stroke-width="0.22" transform="rotate(-90 121.3 54.5)">1,000</text>
<text x="133.00" y="54.50" font-size="7.0" text-anchor="start" fill="#333" stroke="#333" stroke-width="0.22" transform="rotate(-90 133.0 54.5)">0</text>
<text x="142.80" y="54.50" font-size="7.0" text-anchor="start" fill="#333" stroke="#333" stroke-width="0.22" transform="rotate(-90 142.8 54.5)">1</text>
<text x="155.10" y="54.50" font-size="7.0" text-anchor="start" fill="#333" stroke="#333" stroke-width="0.22" transform="rotate(-90 155.10000000000002 54.5)">10</text>
<text x="166.20" y="54.50" font-size="7.0" text-anchor="start" fill="#333" stroke="#333" stroke-width="0.22" transform="rotate(-90 166.20000000000002 54.5)">100</text>
<text x="177.90" y="54.50" font-size="7.0" text-anchor="start" fill="#333" stroke="#333" stroke-width="0.22" transform="rotate(-90 177.9 54.5)">1,000</text>
<text x="190.80" y="46.80" font-size="6.6" text-anchor="start" fill="#333" stroke="#333" stroke-width="0.22">nmol/L</text>
<text x="192.00" y="69.90" font-size="6.6" text-anchor="start" fill="#333" stroke="#333" stroke-width="0.22">pRET (Y1062)</text>
<text x="192.00" y="95.40" font-size="6.6" text-anchor="start" fill="#333" stroke="#333" stroke-width="0.22">pSHC (Y239/Y240)</text>
<text x="192.00" y="121.20" font-size="6.6" text-anchor="start" fill="#333" stroke="#333" stroke-width="0.22">pERK1/2 (Y202/Y204)</text>
<text x="192.00" y="146.40" font-size="6.6" text-anchor="start" fill="#333" stroke="#333" stroke-width="0.22">RET</text>
<text x="192.00" y="171.90" font-size="6.6" text-anchor="start" fill="#333" stroke="#333" stroke-width="0.22">SHC</text>
<text x="192.00" y="197.80" font-size="6.6" text-anchor="start" fill="#333" stroke="#333" stroke-width="0.22">ERK1/2</text>
<text x="0.30" y="238.60" font-size="10.5" text-anchor="start" font-weight="bold" fill="#111">B</text>
<text x="98.10" y="241.20" font-size="8.2" text-anchor="middle" fill="#1a1a1a" stroke="#1a1a1a" stroke-width="0.38">MZ-CRC-1 cells</text>
<text x="38.10" y="253.00" font-size="7.1" text-anchor="middle" fill="#333" stroke="#333" stroke-width="0.22">BLU-667</text>
<text x="96.90" y="253.00" font-size="7.1" text-anchor="middle" fill="#333" stroke="#333" stroke-width="0.22">Cabozantinib</text>
<text x="156.30" y="253.00" font-size="7.1" text-anchor="middle" fill="#333" stroke="#333" stroke-width="0.22">Vandetanib</text>
<rect x="11.25" y="258.00" width="52.5" height="1.2" fill="#333"/>
<rect x="70" y="258.00" width="53.75" height="1.2" fill="#333"/>
<rect x="129.4" y="258.00" width="53.19999999999999" height="1.2" fill="#333"/>
<text x="19.05" y="281.90" font-size="7.0" text-anchor="start" fill="#333" stroke="#333" stroke-width="0.22" transform="rotate(-90 19.05 281.9)">0</text>
<text x="28.60" y="281.90" font-size="7.0" text-anchor="start" fill="#333" stroke="#333" stroke-width="0.22" transform="rotate(-90 28.6 281.9)">1</text>
<text x="40.05" y="281.90" font-size="7.0" text-anchor="start" fill="#333" stroke="#333" stroke-width="0.22" transform="rotate(-90 40.05 281.9)">10</text>
<text x="51.55" y="281.90" font-size="7.0" text-anchor="start" fill="#333" stroke="#333" stroke-width="0.22" transform="rotate(-90 51.55 281.9)">100</text>
<text x="63.40" y="281.90" font-size="7.0" text-anchor="start" fill="#333" stroke="#333" stroke-width="0.22" transform="rotate(-90 63.4 281.9)">1,000</text>
<text x="76.30" y="281.90" font-size="7.0" text-anchor="start" fill="#333" stroke="#333" stroke-width="0.22" transform="rotate(-90 76.3 281.9)">0</text>
<text x="86.70" y="281.90" font-size="7.0" text-anchor="start" fill="#333" stroke="#333" stroke-width="0.22" transform="rotate(-90 86.7 281.9)">1</text>
<text x="98.20" y="281.90" font-size="7.0" text-anchor="start" fill="#333" stroke="#333" stroke-width="0.22" transform="rotate(-90 98.2 281.9)">10</text>
<text x="110.05" y="281.90" font-size="7.0" text-anchor="start" fill="#333" stroke="#333" stroke-width="0.22" transform="rotate(-90 110.05 281.9)">100</text>
<text x="121.90" y="281.90" font-size="7.0" text-anchor="start" fill="#333" stroke="#333" stroke-width="0.22" transform="rotate(-90 121.89999999999999 281.9)">1,000</text>
<text x="135.60" y="281.90" font-size="7.0" text-anchor="start" fill="#333" stroke="#333" stroke-width="0.22" transform="rotate(-90 135.60000000000002 281.9)">0</text>
<text x="145.20" y="281.90" font-size="7.0" text-anchor="start" fill="#333" stroke="#333" stroke-width="0.22" transform="rotate(-90 145.20000000000002 281.9)">1</text>
<text x="157.80" y="281.90" font-size="7.0" text-anchor="start" fill="#333" stroke="#333" stroke-width="0.22" transform="rotate(-90 157.8 281.9)">10</text>
<text x="169.80" y="281.90" font-size="7.0" text-anchor="start" fill="#333" stroke="#333" stroke-width="0.22" transform="rotate(-90 169.8 281.9)">100</text>
<text x="182.00" y="281.90" font-size="7.0" text-anchor="start" fill="#333" stroke="#333" stroke-width="0.22" transform="rotate(-90 182.0 281.9)">1,000</text>
<text x="190.00" y="273.90" font-size="6.6" text-anchor="start" fill="#333" stroke="#333" stroke-width="0.22">nmol/L</text>
<text x="190.20" y="301.00" font-size="6.6" text-anchor="start" fill="#333" stroke="#333" stroke-width="0.22">pRET (Y1062)</text>
<text x="190.20" y="325.70" font-size="6.6" text-anchor="start" fill="#333" stroke="#333" stroke-width="0.22">pSHC (Y239/Y240)</text>
<text x="190.20" y="350.80" font-size="6.6" text-anchor="start" fill="#333" stroke="#333" stroke-width="0.22">pERK1/2 (Y202/Y204)</text>
<text x="190.20" y="375.80" font-size="6.6" text-anchor="start" fill="#333" stroke="#333" stroke-width="0.22">RET</text>
<text x="190.20" y="403.00" font-size="6.6" text-anchor="start" fill="#333" stroke="#333" stroke-width="0.22">SHC</text>
<text x="190.20" y="432.20" font-size="6.6" text-anchor="start" fill="#333" stroke="#333" stroke-width="0.22">ERK1/2</text>
<text x="0.30" y="467.40" font-size="10.5" text-anchor="start" font-weight="bold" fill="#111">C</text>
<text x="98.10" y="468.70" font-size="8.2" text-anchor="middle" fill="#1a1a1a" stroke="#1a1a1a" stroke-width="0.38">TT cells</text>
<text x="38.10" y="481.60" font-size="7.1" text-anchor="middle" fill="#333" stroke="#333" stroke-width="0.22">BLU-667</text>
<text x="96.90" y="481.60" font-size="7.1" text-anchor="middle" fill="#333" stroke="#333" stroke-width="0.22">Cabozantinib</text>
<text x="156.30" y="481.60" font-size="7.1" text-anchor="middle" fill="#333" stroke="#333" stroke-width="0.22">Vandetanib</text>
<rect x="11.25" y="486.90" width="52.5" height="1.2" fill="#333"/>
<rect x="70" y="486.90" width="53.75" height="1.2" fill="#333"/>
<rect x="130" y="486.90" width="52.599999999999994" height="1.2" fill="#333"/>
<text x="18.40" y="509.90" font-size="7.0" text-anchor="start" fill="#333" stroke="#333" stroke-width="0.22" transform="rotate(-90 18.400000000000002 509.9)">0</text>
<text x="29.90" y="509.90" font-size="7.0" text-anchor="start" fill="#333" stroke="#333" stroke-width="0.22" transform="rotate(-90 29.900000000000002 509.9)">1</text>
<text x="40.30" y="509.90" font-size="7.0" text-anchor="start" fill="#333" stroke="#333" stroke-width="0.22" transform="rotate(-90 40.3 509.9)">10</text>
<text x="52.00" y="509.90" font-size="7.0" text-anchor="start" fill="#333" stroke="#333" stroke-width="0.22" transform="rotate(-90 52.0 509.9)">100</text>
<text x="63.10" y="509.90" font-size="7.0" text-anchor="start" fill="#333" stroke="#333" stroke-width="0.22" transform="rotate(-90 63.099999999999994 509.9)">1,000</text>
<text x="76.40" y="509.90" font-size="7.0" text-anchor="start" fill="#333" stroke="#333" stroke-width="0.22" transform="rotate(-90 76.39999999999999 509.9)">0</text>
<text x="87.30" y="509.90" font-size="7.0" text-anchor="start" fill="#333" stroke="#333" stroke-width="0.22" transform="rotate(-90 87.3 509.9)">1</text>
<text x="98.60" y="509.90" font-size="7.0" text-anchor="start" fill="#333" stroke="#333" stroke-width="0.22" transform="rotate(-90 98.6 509.9)">10</text>
<text x="111.30" y="509.90" font-size="7.0" text-anchor="start" fill="#333" stroke="#333" stroke-width="0.22" transform="rotate(-90 111.3 509.9)">100</text>
<text x="123.00" y="509.90" font-size="7.0" text-anchor="start" fill="#333" stroke="#333" stroke-width="0.22" transform="rotate(-90 123.0 509.9)">1,000</text>
<text x="136.00" y="509.90" font-size="7.0" text-anchor="start" fill="#333" stroke="#333" stroke-width="0.22" transform="rotate(-90 136.0 509.9)">0</text>
<text x="146.50" y="509.90" font-size="7.0" text-anchor="start" fill="#333" stroke="#333" stroke-width="0.22" transform="rotate(-90 146.5 509.9)">1</text>
<text x="159.00" y="509.90" font-size="7.0" text-anchor="start" fill="#333" stroke="#333" stroke-width="0.22" transform="rotate(-90 159.0 509.9)">10</text>
<text x="170.50" y="509.90" font-size="7.0" text-anchor="start" fill="#333" stroke="#333" stroke-width="0.22" transform="rotate(-90 170.5 509.9)">100</text>
<text x="182.80" y="509.90" font-size="7.0" text-anchor="start" fill="#333" stroke="#333" stroke-width="0.22" transform="rotate(-90 182.8 509.9)">1,000</text>
<text x="190.90" y="502.70" font-size="6.6" text-anchor="start" fill="#333" stroke="#333" stroke-width="0.22">nmol/L</text>
<text x="191.30" y="530.20" font-size="6.6" text-anchor="start" fill="#333" stroke="#333" stroke-width="0.22">pRET (Y1062)</text>
<text x="191.30" y="554.90" font-size="6.6" text-anchor="start" fill="#333" stroke="#333" stroke-width="0.22">pSHC (Y239/Y240)</text>
<text x="191.30" y="578.60" font-size="6.6" text-anchor="start" fill="#333" stroke="#333" stroke-width="0.22">pERK1/2 (Y202/Y204)</text>
<text x="191.30" y="603.80" font-size="6.6" text-anchor="start" fill="#333" stroke="#333" stroke-width="0.22">RET</text>
<text x="191.30" y="628.50" font-size="6.6" text-anchor="start" fill="#333" stroke="#333" stroke-width="0.22">SHC</text>
<text x="191.30" y="655.20" font-size="6.6" text-anchor="start" fill="#333" stroke="#333" stroke-width="0.22">ERK1/2</text>
<rect x="327.3" y="1.5" width="11.8" height="6.4" fill="#9e9da2"/>
<text x="344.60" y="7.80" font-size="6.9" text-anchor="start" fill="#333" stroke="#333" stroke-width="0.22">DMSO</text>
<rect x="327.3" y="13.8" width="11.8" height="6.4" fill="#93b8e3"/>
<text x="346.00" y="20.10" font-size="6.9" text-anchor="start" fill="#333" stroke="#333" stroke-width="0.22">1 nmol/L BLU-667</text>
<rect x="327.3" y="26.0" width="11.8" height="6.4" fill="#6a90cc"/>
<text x="346.00" y="32.30" font-size="6.9" text-anchor="start" fill="#333" stroke="#333" stroke-width="0.22">5 nmol/L BLU-667</text>
<rect x="419.3" y="1.8" width="11.8" height="6.4" fill="#5558a9"/>
<text x="438.30" y="8.10" font-size="6.9" text-anchor="start" fill="#333" stroke="#333" stroke-width="0.22">15 nmol/L BLU-667</text>
<rect x="419.3" y="13.9" width="11.8" height="6.4" fill="#2b4198"/>
<text x="438.30" y="20.20" font-size="6.9" text-anchor="start" fill="#333" stroke="#333" stroke-width="0.22">30 nmol/L BLU-667</text>
<rect x="419.3" y="25.9" width="11.8" height="6.4" fill="#e1443a"/>
<text x="438.30" y="32.20" font-size="6.9" text-anchor="start" fill="#333" stroke="#333" stroke-width="0.22">1 µmol/L cabozantinib</text>
<text x="282.20" y="51.20" font-size="10.5" text-anchor="start" font-weight="bold" fill="#111">D</text>
<text x="394.80" y="56.60" font-size="8.2" text-anchor="start" fill="#1a1a1a" stroke="#1a1a1a" stroke-width="0.32">LC2/ad cells</text>
<text x="296.20" y="139.00" font-size="8.0" text-anchor="middle" fill="#333" stroke="#333" stroke-width="0.22" transform="rotate(-90 296.2 139.0)">Relative expression</text>
<rect x="322.80" y="54.80" width="1" height="168.40" fill="#555"/>
<rect x="320.30" y="222.70" width="199.70" height="1" fill="#555"/>
<rect x="320.30" y="222.70" width="3" height="1" fill="#555"/>
<text x="317.30" y="225.15" font-size="7.9" text-anchor="end" fill="#2a2a2a" stroke="#2a2a2a" stroke-width="0.22">0.0</text>
<rect x="320.30" y="194.63" width="3" height="1" fill="#555"/>
<text x="317.30" y="197.08" font-size="7.9" text-anchor="end" fill="#2a2a2a" stroke="#2a2a2a" stroke-width="0.22">0.2</text>
<rect x="320.30" y="166.57" width="3" height="1" fill="#555"/>
<text x="317.30" y="169.02" font-size="7.9" text-anchor="end" fill="#2a2a2a" stroke="#2a2a2a" stroke-width="0.22">0.4</text>
<rect x="320.30" y="138.50" width="3" height="1" fill="#555"/>
<text x="317.30" y="140.95" font-size="7.9" text-anchor="end" fill="#2a2a2a" stroke="#2a2a2a" stroke-width="0.22">0.6</text>
<rect x="320.30" y="110.43" width="3" height="1" fill="#555"/>
<text x="317.30" y="112.88" font-size="7.9" text-anchor="end" fill="#2a2a2a" stroke="#2a2a2a" stroke-width="0.22">0.8</text>
<rect x="320.30" y="82.37" width="3" height="1" fill="#555"/>
<text x="317.30" y="84.82" font-size="7.9" text-anchor="end" fill="#2a2a2a" stroke="#2a2a2a" stroke-width="0.22">1.0</text>
<rect x="320.30" y="54.30" width="3" height="1" fill="#555"/>
<text x="317.30" y="56.75" font-size="7.9" text-anchor="end" fill="#2a2a2a" stroke="#2a2a2a" stroke-width="0.22">1.2</text>
<rect x="330.05" y="77.53" width="0.9" height="3.51" fill="#555"/>
<rect x="328.00" y="77.08" width="5" height="0.9" fill="#555"/>
<rect x="327.00" y="81.04" width="7" height="142.16" fill="#9e9da2"/>
<rect x="340.00" y="105.18" width="0.9" height="3.51" fill="#555"/>
<rect x="337.95" y="104.73" width="5" height="0.9" fill="#555"/>
<rect x="336.95" y="108.69" width="7" height="114.51" fill="#93b8e3"/>
<text x="341.13" y="101.38" font-size="6.0" text-anchor="middle" fill="#1a1a1a" stroke="#1a1a1a" stroke-width="0.5" stroke-linejoin="round" letter-spacing="1.37">*</text>
<rect x="349.95" y="155.84" width="0.9" height="12.07" fill="#555"/>
<rect x="347.90" y="155.39" width="5" height="0.9" fill="#555"/>
<rect x="346.90" y="167.91" width="7" height="55.29" fill="#6a90cc"/>
<text x="351.08" y="151.97" font-size="6.0" text-anchor="middle" fill="#1a1a1a" stroke="#1a1a1a" stroke-width="0.5" stroke-linejoin="round" letter-spacing="1.37">*</text>
<rect x="356.85" y="215.76" width="7" height="7.44" fill="#5558a9"/>
<text x="361.04" y="210.47" font-size="6.0" text-anchor="middle" fill="#1a1a1a" stroke="#1a1a1a" stroke-width="0.5" stroke-linejoin="round" letter-spacing="1.37">***</text>
<rect x="366.80" y="218.99" width="7" height="4.21" fill="#2b4198"/>
<text x="370.99" y="219.27" font-size="6.0" text-anchor="middle" fill="#1a1a1a" stroke="#1a1a1a" stroke-width="0.5" stroke-linejoin="round" letter-spacing="1.37">***</text>
<rect x="376.75" y="217.59" width="7" height="5.61" fill="#e1443a"/>
<text x="380.94" y="210.47" font-size="6.0" text-anchor="middle" fill="#1a1a1a" stroke="#1a1a1a" stroke-width="0.5" stroke-linejoin="round" letter-spacing="1.37">***</text>
<rect x="396.65" y="63.50" width="0.9" height="12.07" fill="#555"/>
<rect x="394.60" y="63.05" width="5" height="0.9" fill="#555"/>
<rect x="393.60" y="75.57" width="7" height="147.63" fill="#9e9da2"/>
<rect x="403.55" y="78.94" width="7" height="144.26" fill="#93b8e3"/>
<rect x="416.55" y="146.02" width="0.9" height="11.23" fill="#555"/>
<rect x="414.50" y="145.57" width="5" height="0.9" fill="#555"/>
<rect x="413.50" y="157.24" width="7" height="65.96" fill="#6a90cc"/>
<text x="417.69" y="141.47" font-size="6.0" text-anchor="middle" fill="#1a1a1a" stroke="#1a1a1a" stroke-width="0.5" stroke-linejoin="round" letter-spacing="1.37">*</text>
<rect x="423.45" y="214.78" width="7" height="8.42" fill="#5558a9"/>
<text x="427.64" y="209.57" font-size="6.0" text-anchor="middle" fill="#1a1a1a" stroke="#1a1a1a" stroke-width="0.5" stroke-linejoin="round" letter-spacing="1.37">**</text>
<rect x="433.40" y="217.59" width="7" height="5.61" fill="#2b4198"/>
<text x="437.59" y="215.67" font-size="6.0" text-anchor="middle" fill="#1a1a1a" stroke="#1a1a1a" stroke-width="0.5" stroke-linejoin="round" letter-spacing="1.37">**</text>
<rect x="443.35" y="217.59" width="7" height="5.61" fill="#e1443a"/>
<text x="447.54" y="209.57" font-size="6.0" text-anchor="middle" fill="#1a1a1a" stroke="#1a1a1a" stroke-width="0.5" stroke-linejoin="round" letter-spacing="1.37">**</text>
<rect x="463.25" y="75.85" width="0.9" height="3.51" fill="#555"/>
<rect x="461.20" y="75.40" width="5" height="0.9" fill="#555"/>
<rect x="460.20" y="79.36" width="7" height="143.84" fill="#9e9da2"/>
<rect x="470.15" y="79.36" width="7" height="143.84" fill="#93b8e3"/>
<rect x="483.15" y="66.03" width="0.9" height="23.16" fill="#555"/>
<rect x="481.10" y="65.58" width="5" height="0.9" fill="#555"/>
<rect x="480.10" y="89.18" width="7" height="134.02" fill="#6a90cc"/>
<rect x="493.10" y="77.25" width="0.9" height="12.63" fill="#555"/>
<rect x="491.05" y="76.80" width="5" height="0.9" fill="#555"/>
<rect x="490.05" y="89.88" width="7" height="133.32" fill="#5558a9"/>
<rect x="503.05" y="86.38" width="0.9" height="5.61" fill="#555"/>
<rect x="501.00" y="85.92" width="5" height="0.9" fill="#555"/>
<rect x="500.00" y="91.99" width="7" height="131.21" fill="#2b4198"/>
<rect x="509.95" y="84.97" width="7" height="138.23" fill="#e1443a"/>
<text x="356.10" y="234.80" font-size="8.2" text-anchor="middle" font-style="italic" fill="#222" stroke="#222" stroke-width="0.22">DUSP6</text>
<text x="422.70" y="234.80" font-size="8.2" text-anchor="middle" font-style="italic" fill="#222" stroke="#222" stroke-width="0.22">SPRY4</text>
<text x="489.30" y="234.80" font-size="8.2" text-anchor="middle" font-style="italic" fill="#222" stroke="#222" stroke-width="0.22">GSK3B</text>
<text x="282.20" y="267.30" font-size="10.5" text-anchor="start" font-weight="bold" fill="#111">E</text>
<text x="388.20" y="272.80" font-size="8.2" text-anchor="start" fill="#1a1a1a" stroke="#1a1a1a" stroke-width="0.32">MZ-CRC-1 cells</text>
<text x="296.30" y="354.00" font-size="8.0" text-anchor="middle" fill="#333" stroke="#333" stroke-width="0.22" transform="rotate(-90 296.3 354.0)">Relative expression</text>
<rect x="323.00" y="270.30" width="1" height="168.10" fill="#555"/>
<rect x="320.50" y="437.90" width="199.50" height="1" fill="#555"/>
<rect x="320.50" y="437.90" width="3" height="1" fill="#555"/>
<text x="317.50" y="440.35" font-size="7.9" text-anchor="end" fill="#2a2a2a" stroke="#2a2a2a" stroke-width="0.22">0.0</text>
<rect x="320.50" y="409.88" width="3" height="1" fill="#555"/>
<text x="317.50" y="412.33" font-size="7.9" text-anchor="end" fill="#2a2a2a" stroke="#2a2a2a" stroke-width="0.22">0.2</text>
<rect x="320.50" y="381.87" width="3" height="1" fill="#555"/>
<text x="317.50" y="384.32" font-size="7.9" text-anchor="end" fill="#2a2a2a" stroke="#2a2a2a" stroke-width="0.22">0.4</text>
<rect x="320.50" y="353.85" width="3" height="1" fill="#555"/>
<text x="317.50" y="356.30" font-size="7.9" text-anchor="end" fill="#2a2a2a" stroke="#2a2a2a" stroke-width="0.22">0.6</text>
<rect x="320.50" y="325.83" width="3" height="1" fill="#555"/>
<text x="317.50" y="328.28" font-size="7.9" text-anchor="end" fill="#2a2a2a" stroke="#2a2a2a" stroke-width="0.22">0.8</text>
<rect x="320.50" y="297.82" width="3" height="1" fill="#555"/>
<text x="317.50" y="300.27" font-size="7.9" text-anchor="end" fill="#2a2a2a" stroke="#2a2a2a" stroke-width="0.22">1.0</text>
<rect x="320.50" y="269.80" width="3" height="1" fill="#555"/>
<text x="317.50" y="272.25" font-size="7.9" text-anchor="end" fill="#2a2a2a" stroke="#2a2a2a" stroke-width="0.22">1.2</text>
<rect x="330.05" y="290.19" width="0.9" height="29.14" fill="#555"/>
<rect x="328.00" y="289.74" width="5" height="0.9" fill="#555"/>
<rect x="327.00" y="319.33" width="7" height="119.07" fill="#9e9da2"/>
<rect x="340.00" y="340.34" width="0.9" height="7.00" fill="#555"/>
<rect x="337.95" y="339.89" width="5" height="0.9" fill="#555"/>
<rect x="336.95" y="347.35" width="7" height="91.05" fill="#93b8e3"/>
<rect x="349.95" y="370.04" width="0.9" height="0.42" fill="#555"/>
<rect x="347.90" y="369.59" width="5" height="0.9" fill="#555"/>
<rect x="346.90" y="370.46" width="7" height="67.94" fill="#6a90cc"/>
<rect x="359.90" y="390.77" width="0.9" height="8.40" fill="#555"/>
<rect x="357.85" y="390.32" width="5" height="0.9" fill="#555"/>
<rect x="356.85" y="399.18" width="7" height="39.22" fill="#5558a9"/>
<rect x="369.85" y="411.78" width="0.9" height="1.40" fill="#555"/>
<rect x="367.80" y="411.33" width="5" height="0.9" fill="#555"/>
<rect x="366.80" y="413.19" width="7" height="25.21" fill="#2b4198"/>
<text x="370.99" y="409.07" font-size="6.0" text-anchor="middle" fill="#1a1a1a" stroke="#1a1a1a" stroke-width="0.5" stroke-linejoin="round" letter-spacing="1.37">*</text>
<rect x="379.80" y="428.87" width="0.9" height="3.08" fill="#555"/>
<rect x="377.75" y="428.42" width="5" height="0.9" fill="#555"/>
<rect x="376.75" y="431.96" width="7" height="6.44" fill="#e1443a"/>
<text x="380.94" y="426.07" font-size="6.0" text-anchor="middle" fill="#1a1a1a" stroke="#1a1a1a" stroke-width="0.5" stroke-linejoin="round" letter-spacing="1.37">*</text>
<rect x="396.65" y="292.71" width="0.9" height="21.01" fill="#555"/>
<rect x="394.60" y="292.26" width="5" height="0.9" fill="#555"/>
<rect x="393.60" y="313.73" width="7" height="124.67" fill="#9e9da2"/>
<rect x="406.60" y="336.42" width="0.9" height="0.42" fill="#555"/>
<rect x="404.55" y="335.97" width="5" height="0.9" fill="#555"/>
<rect x="403.55" y="336.84" width="7" height="101.56" fill="#93b8e3"/>
<rect x="416.55" y="359.95" width="0.9" height="2.80" fill="#555"/>
<rect x="414.50" y="359.50" width="5" height="0.9" fill="#555"/>
<rect x="413.50" y="362.75" width="7" height="75.64" fill="#6a90cc"/>
<rect x="426.50" y="394.97" width="0.9" height="7.70" fill="#555"/>
<rect x="424.45" y="394.52" width="5" height="0.9" fill="#555"/>
<rect x="423.45" y="402.68" width="7" height="35.72" fill="#5558a9"/>
<text x="427.64" y="390.57" font-size="6.0" text-anchor="middle" fill="#1a1a1a" stroke="#1a1a1a" stroke-width="0.5" stroke-linejoin="round" letter-spacing="1.37">*</text>
<rect x="433.40" y="417.39" width="7" height="21.01" fill="#2b4198"/>
<text x="437.59" y="413.88" font-size="6.0" text-anchor="middle" fill="#1a1a1a" stroke="#1a1a1a" stroke-width="0.5" stroke-linejoin="round" letter-spacing="1.37">*</text>
<rect x="443.35" y="434.20" width="7" height="4.20" fill="#e1443a"/>
<text x="447.54" y="430.47" font-size="6.0" text-anchor="middle" fill="#1a1a1a" stroke="#1a1a1a" stroke-width="0.5" stroke-linejoin="round" letter-spacing="1.37">*</text>
<rect x="463.25" y="296.22" width="0.9" height="9.11" fill="#555"/>
<rect x="461.20" y="295.77" width="5" height="0.9" fill="#555"/>
<rect x="460.20" y="305.32" width="7" height="133.08" fill="#9e9da2"/>
<rect x="473.20" y="311.20" width="0.9" height="0.42" fill="#555"/>
<rect x="471.15" y="310.75" width="5" height="0.9" fill="#555"/>
<rect x="470.15" y="311.62" width="7" height="126.78" fill="#93b8e3"/>
<rect x="483.15" y="303.22" width="0.9" height="4.20" fill="#555"/>
<rect x="481.10" y="302.77" width="5" height="0.9" fill="#555"/>
<rect x="480.10" y="307.42" width="7" height="130.98" fill="#6a90cc"/>
<rect x="493.10" y="303.92" width="0.9" height="7.00" fill="#555"/>
<rect x="491.05" y="303.47" width="5" height="0.9" fill="#555"/>
<rect x="490.05" y="310.92" width="7" height="127.48" fill="#5558a9"/>
<rect x="503.05" y="301.12" width="0.9" height="7.00" fill="#555"/>
<rect x="501.00" y="300.67" width="5" height="0.9" fill="#555"/>
<rect x="500.00" y="308.12" width="7" height="130.28" fill="#2b4198"/>
<rect x="513.00" y="315.13" width="0.9" height="4.90" fill="#555"/>
<rect x="510.95" y="314.68" width="5" height="0.9" fill="#555"/>
<rect x="509.95" y="320.03" width="7" height="118.37" fill="#e1443a"/>
<text x="356.10" y="451.40" font-size="8.2" text-anchor="middle" font-style="italic" fill="#222" stroke="#222" stroke-width="0.22">DUSP6</text>
<text x="422.70" y="451.40" font-size="8.2" text-anchor="middle" font-style="italic" fill="#222" stroke="#222" stroke-width="0.22">SPRY4</text>
<text x="489.30" y="451.40" font-size="8.2" text-anchor="middle" font-style="italic" fill="#222" stroke="#222" stroke-width="0.22">GSK3B</text>
<text x="282.00" y="483.10" font-size="10.5" text-anchor="start" font-weight="bold" fill="#111">F</text>
<text x="395.70" y="488.80" font-size="8.2" text-anchor="start" fill="#1a1a1a" stroke="#1a1a1a" stroke-width="0.32">TT cells</text>
<text x="296.30" y="570.50" font-size="8.0" text-anchor="middle" fill="#333" stroke="#333" stroke-width="0.22" transform="rotate(-90 296.3 570.5)">Relative expression</text>
<rect x="322.60" y="486.20" width="1" height="168.20" fill="#555"/>
<rect x="320.10" y="653.90" width="199.90" height="1" fill="#555"/>
<rect x="320.10" y="653.90" width="3" height="1" fill="#555"/>
<text x="317.10" y="656.35" font-size="7.9" text-anchor="end" fill="#2a2a2a" stroke="#2a2a2a" stroke-width="0.22">0.0</text>
<rect x="320.10" y="625.87" width="3" height="1" fill="#555"/>
<text x="317.10" y="628.32" font-size="7.9" text-anchor="end" fill="#2a2a2a" stroke="#2a2a2a" stroke-width="0.22">0.2</text>
<rect x="320.10" y="597.83" width="3" height="1" fill="#555"/>
<text x="317.10" y="600.28" font-size="7.9" text-anchor="end" fill="#2a2a2a" stroke="#2a2a2a" stroke-width="0.22">0.4</text>
<rect x="320.10" y="569.80" width="3" height="1" fill="#555"/>
<text x="317.10" y="572.25" font-size="7.9" text-anchor="end" fill="#2a2a2a" stroke="#2a2a2a" stroke-width="0.22">0.6</text>
<rect x="320.10" y="541.77" width="3" height="1" fill="#555"/>
<text x="317.10" y="544.22" font-size="7.9" text-anchor="end" fill="#2a2a2a" stroke="#2a2a2a" stroke-width="0.22">0.8</text>
<rect x="320.10" y="513.73" width="3" height="1" fill="#555"/>
<text x="317.10" y="516.18" font-size="7.9" text-anchor="end" fill="#2a2a2a" stroke="#2a2a2a" stroke-width="0.22">1.0</text>
<rect x="320.10" y="485.70" width="3" height="1" fill="#555"/>
<text x="317.10" y="488.15" font-size="7.9" text-anchor="end" fill="#2a2a2a" stroke="#2a2a2a" stroke-width="0.22">1.2</text>
<rect x="330.05" y="508.63" width="0.9" height="19.62" fill="#555"/>
<rect x="328.00" y="508.18" width="5" height="0.9" fill="#555"/>
<rect x="327.00" y="528.25" width="7" height="126.15" fill="#9e9da2"/>
<rect x="340.00" y="539.46" width="0.9" height="21.02" fill="#555"/>
<rect x="337.95" y="539.01" width="5" height="0.9" fill="#555"/>
<rect x="336.95" y="560.49" width="7" height="93.91" fill="#93b8e3"/>
<text x="341.13" y="537.08" font-size="6.0" text-anchor="middle" fill="#1a1a1a" stroke="#1a1a1a" stroke-width="0.5" stroke-linejoin="round" letter-spacing="1.37">*</text>
<rect x="349.95" y="603.94" width="0.9" height="4.21" fill="#555"/>
<rect x="347.90" y="603.49" width="5" height="0.9" fill="#555"/>
<rect x="346.90" y="608.14" width="7" height="46.25" fill="#6a90cc"/>
<text x="351.08" y="601.58" font-size="6.0" text-anchor="middle" fill="#1a1a1a" stroke="#1a1a1a" stroke-width="0.5" stroke-linejoin="round" letter-spacing="1.37">*</text>
<rect x="356.85" y="644.59" width="7" height="9.81" fill="#5558a9"/>
<text x="361.04" y="640.78" font-size="6.0" text-anchor="middle" fill="#1a1a1a" stroke="#1a1a1a" stroke-width="0.5" stroke-linejoin="round" letter-spacing="1.37">*</text>
<rect x="369.85" y="648.79" width="0.9" height="1.40" fill="#555"/>
<rect x="367.80" y="648.34" width="5" height="0.9" fill="#555"/>
<rect x="366.80" y="650.19" width="7" height="4.21" fill="#2b4198"/>
<text x="370.99" y="647.68" font-size="6.0" text-anchor="middle" fill="#1a1a1a" stroke="#1a1a1a" stroke-width="0.5" stroke-linejoin="round" letter-spacing="1.37">*</text>
<rect x="376.75" y="651.60" width="7" height="2.80" fill="#e1443a"/>
<text x="380.94" y="649.38" font-size="6.0" text-anchor="middle" fill="#1a1a1a" stroke="#1a1a1a" stroke-width="0.5" stroke-linejoin="round" letter-spacing="1.37">*</text>
<rect x="396.65" y="510.03" width="0.9" height="15.42" fill="#555"/>
<rect x="394.60" y="509.58" width="5" height="0.9" fill="#555"/>
<rect x="393.60" y="525.45" width="7" height="128.95" fill="#9e9da2"/>
<rect x="406.60" y="538.06" width="0.9" height="12.62" fill="#555"/>
<rect x="404.55" y="537.61" width="5" height="0.9" fill="#555"/>
<rect x="403.55" y="550.68" width="7" height="103.72" fill="#93b8e3"/>
<rect x="416.55" y="592.73" width="0.9" height="5.61" fill="#555"/>
<rect x="414.50" y="592.28" width="5" height="0.9" fill="#555"/>
<rect x="413.50" y="598.33" width="7" height="56.07" fill="#6a90cc"/>
<text x="417.69" y="592.28" font-size="6.0" text-anchor="middle" fill="#1a1a1a" stroke="#1a1a1a" stroke-width="0.5" stroke-linejoin="round" letter-spacing="1.37">*</text>
<rect x="423.45" y="641.78" width="7" height="12.62" fill="#5558a9"/>
<text x="427.64" y="638.98" font-size="6.0" text-anchor="middle" fill="#1a1a1a" stroke="#1a1a1a" stroke-width="0.5" stroke-linejoin="round" letter-spacing="1.37">**</text>
<rect x="433.40" y="651.60" width="7" height="2.80" fill="#2b4198"/>
<text x="437.59" y="648.88" font-size="6.0" text-anchor="middle" fill="#1a1a1a" stroke="#1a1a1a" stroke-width="0.5" stroke-linejoin="round" letter-spacing="1.37">**</text>
<rect x="443.35" y="653.00" width="7" height="1.40" fill="#e1443a"/>
<text x="447.54" y="650.08" font-size="6.0" text-anchor="middle" fill="#1a1a1a" stroke="#1a1a1a" stroke-width="0.5" stroke-linejoin="round" letter-spacing="1.37">**</text>
<rect x="463.25" y="500.22" width="0.9" height="8.41" fill="#555"/>
<rect x="461.20" y="499.77" width="5" height="0.9" fill="#555"/>
<rect x="460.20" y="508.63" width="7" height="145.77" fill="#9e9da2"/>
<rect x="473.20" y="500.22" width="0.9" height="5.61" fill="#555"/>
<rect x="471.15" y="499.77" width="5" height="0.9" fill="#555"/>
<rect x="470.15" y="505.82" width="7" height="148.58" fill="#93b8e3"/>
<rect x="483.15" y="505.82" width="0.9" height="2.80" fill="#555"/>
<rect x="481.10" y="505.37" width="5" height="0.9" fill="#555"/>
<rect x="480.10" y="508.63" width="7" height="145.77" fill="#6a90cc"/>
<rect x="493.10" y="518.44" width="0.9" height="1.40" fill="#555"/>
<rect x="491.05" y="517.99" width="5" height="0.9" fill="#555"/>
<rect x="490.05" y="519.84" width="7" height="134.56" fill="#5558a9"/>
<rect x="503.05" y="518.44" width="0.9" height="7.01" fill="#555"/>
<rect x="501.00" y="517.99" width="5" height="0.9" fill="#555"/>
<rect x="500.00" y="525.45" width="7" height="128.95" fill="#2b4198"/>
<rect x="513.00" y="521.24" width="0.9" height="5.61" fill="#555"/>
<rect x="510.95" y="520.79" width="5" height="0.9" fill="#555"/>
<rect x="509.95" y="526.85" width="7" height="127.55" fill="#e1443a"/>
<text x="356.10" y="666.40" font-size="8.2" text-anchor="middle" font-style="italic" fill="#222" stroke="#222" stroke-width="0.22">DUSP6</text>
<text x="422.70" y="666.40" font-size="8.2" text-anchor="middle" font-style="italic" fill="#222" stroke="#222" stroke-width="0.22">SPRY4</text>
<text x="489.30" y="666.40" font-size="8.2" text-anchor="middle" font-style="italic" fill="#222" stroke="#222" stroke-width="0.22">GSK3B</text>
</svg>
</body></html>
